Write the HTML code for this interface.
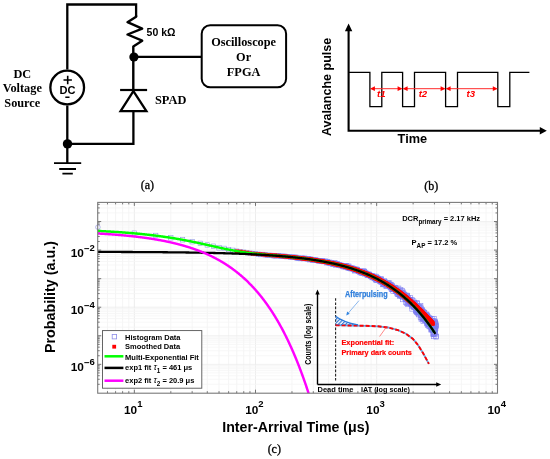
<!DOCTYPE html><html><head><meta charset="utf-8"><style>html,body{margin:0;padding:0;background:#fff;}svg{display:block}</style></head><body>
<svg width="550" height="459" viewBox="0 0 550 459">
<rect width="550" height="459" fill="#fff"/>
<g fill="none" stroke="#000" stroke-width="2.3">
<path d="M67.3,69.6 V4.5 H136.1 V16.7"/>
<path d="M136.1,15.5 V16.7 L127.5,22.2 L142.2,28.6 L127.5,34.5 L142.2,40.7 L133.3,46.4 V90" stroke-linejoin="round" stroke-width="2.4"/>
<path d="M67.3,105.4 V163.2 M67.3,143.9 H133.4 V111"/>
<path d="M133.9,56.8 H201"/>
<circle cx="67.2" cy="87.5" r="16.85"/>
<path d="M120.1,90 H147.1" stroke-width="2.2"/>
<path d="M133.4,91.2 L120.6,111.1 H146.4 Z" stroke-linejoin="miter" stroke-width="2.3"/>
<path d="M54,163.2 H81.2 M59.2,169 H76 M62.4,173.6 H72.8" stroke-width="1.8"/>
<rect x="201.7" y="25.2" width="84.4" height="62" rx="8.5" ry="8.5" stroke-width="2"/>
<path d="M63.5,80 H71.9 M67.7,75.8 V84.2 M65.3,97.2 H69.5" stroke-width="1.6"/>
</g>
<circle cx="133.9" cy="57.0" r="4.6" fill="#000"/>
<circle cx="67.5" cy="143.9" r="4.7" fill="#000"/>
<text x="59.5" y="94.1" style="font-family:'Liberation Sans',sans-serif;font-weight:bold;font-size:11.8px" textLength="16" lengthAdjust="spacingAndGlyphs">DC</text>
<text x="146.6" y="35.8" style="font-family:'Liberation Sans',sans-serif;font-weight:bold;font-size:10.5px">50 kΩ</text>
<g style="font-family:'Liberation Serif',serif;font-weight:bold;font-size:12.3px" text-anchor="middle">
<text x="22.3" y="78">DC</text><text x="22.3" y="92.3">Voltage</text><text x="22.3" y="107">Source</text>
<text x="243.6" y="46.2">Oscilloscope</text><text x="243.6" y="60.8">Or</text><text x="243.6" y="75.5">FPGA</text>
</g>
<text x="154.9" y="104.4" style="font-family:'Liberation Serif',serif;font-weight:bold;font-size:12.4px">SPAD</text>
<text x="147.4" y="189.3" style="font-family:'Liberation Serif',serif;font-size:12px" text-anchor="middle" stroke="#000" stroke-width="0.3">(a)</text>
<g fill="none" stroke="#000">
<path d="M348.6,30 V130.8 H540" stroke-width="2.1" stroke-linejoin="miter"/>
<path d="M348.6,72.3 H369.9 V106.6 H381.8 V72.3 H402.6 V106.6 H414.5 V72.3 H445.6 V106.6 H457.5 V72.3 H497.8 V106.6 H509.8 V72.3 H529.4" stroke-width="1.3"/>
</g>
<path d="M348.6,23.5 L344.9,31.2 H352.3 Z M546.8,130.8 L539.8,127 V134.6 Z" fill="#000"/>
<path d="M372.9,88.7 H399.6" stroke="#ff2a2a" stroke-width="1"/><path d="M369.9,88.7 L374.9,86.3 V91.10000000000001 Z M402.6,88.7 L397.6,86.3 V91.10000000000001 Z" fill="#f00"/>
<path d="M405.6,88.7 H442.6" stroke="#ff2a2a" stroke-width="1"/><path d="M402.6,88.7 L407.6,86.3 V91.10000000000001 Z M445.6,88.7 L440.6,86.3 V91.10000000000001 Z" fill="#f00"/>
<path d="M448.6,88.7 H494.8" stroke="#ff2a2a" stroke-width="1"/><path d="M445.6,88.7 L450.6,86.3 V91.10000000000001 Z M497.8,88.7 L492.8,86.3 V91.10000000000001 Z" fill="#f00"/>
<g style="font-family:'Liberation Sans',sans-serif;font-weight:bold;font-style:italic;font-size:9.6px;fill:#f00" text-anchor="middle"><text x="381.3" y="97.1">t1</text><text x="422.9" y="97.1">t2</text><text x="470.8" y="96.9">t3</text></g>
<text x="397.6" y="142.9" style="font-family:'Liberation Sans',sans-serif;font-weight:bold;font-size:12.6px" textLength="29.5" lengthAdjust="spacingAndGlyphs">Time</text>
<text transform="translate(331.2,136.1) rotate(-90)" style="font-family:'Liberation Sans',sans-serif;font-weight:bold;font-size:12.8px" textLength="98.3" lengthAdjust="spacingAndGlyphs">Avalanche pulse</text>
<text x="431.2" y="189.5" style="font-family:'Liberation Serif',serif;font-size:12px" text-anchor="middle" stroke="#000" stroke-width="0.3">(b)</text>
<g stroke-width="0.8" fill="none">
<path d="M107.47,202.4 V393.2" stroke="#f2f2f2"/>
<path d="M115.58,202.4 V393.2" stroke="#f2f2f2"/>
<path d="M122.61,202.4 V393.2" stroke="#f2f2f2"/>
<path d="M128.81,202.4 V393.2" stroke="#f2f2f2"/>
<path d="M134.35,202.4 V393.2" stroke="#e9e9e9"/>
<path d="M170.82,202.4 V393.2" stroke="#f2f2f2"/>
<path d="M192.15,202.4 V393.2" stroke="#f2f2f2"/>
<path d="M207.29,202.4 V393.2" stroke="#f2f2f2"/>
<path d="M219.03,202.4 V393.2" stroke="#f2f2f2"/>
<path d="M228.62,202.4 V393.2" stroke="#f2f2f2"/>
<path d="M236.73,202.4 V393.2" stroke="#f2f2f2"/>
<path d="M243.76,202.4 V393.2" stroke="#f2f2f2"/>
<path d="M249.96,202.4 V393.2" stroke="#f2f2f2"/>
<path d="M255.50,202.4 V393.2" stroke="#e9e9e9"/>
<path d="M291.97,202.4 V393.2" stroke="#f2f2f2"/>
<path d="M313.30,202.4 V393.2" stroke="#f2f2f2"/>
<path d="M328.44,202.4 V393.2" stroke="#f2f2f2"/>
<path d="M340.18,202.4 V393.2" stroke="#f2f2f2"/>
<path d="M349.77,202.4 V393.2" stroke="#f2f2f2"/>
<path d="M357.88,202.4 V393.2" stroke="#f2f2f2"/>
<path d="M364.91,202.4 V393.2" stroke="#f2f2f2"/>
<path d="M371.11,202.4 V393.2" stroke="#f2f2f2"/>
<path d="M376.65,202.4 V393.2" stroke="#e9e9e9"/>
<path d="M413.12,202.4 V393.2" stroke="#f2f2f2"/>
<path d="M434.45,202.4 V393.2" stroke="#f2f2f2"/>
<path d="M449.59,202.4 V393.2" stroke="#f2f2f2"/>
<path d="M461.33,202.4 V393.2" stroke="#f2f2f2"/>
<path d="M470.92,202.4 V393.2" stroke="#f2f2f2"/>
<path d="M479.03,202.4 V393.2" stroke="#f2f2f2"/>
<path d="M486.06,202.4 V393.2" stroke="#f2f2f2"/>
<path d="M492.26,202.4 V393.2" stroke="#f2f2f2"/>
<path d="M97.7,384.30 H497.5" stroke="#f5f5f5"/>
<path d="M97.7,379.27 H497.5" stroke="#f5f5f5"/>
<path d="M97.7,375.71 H497.5" stroke="#f5f5f5"/>
<path d="M97.7,372.94 H497.5" stroke="#f5f5f5"/>
<path d="M97.7,370.68 H497.5" stroke="#f5f5f5"/>
<path d="M97.7,368.76 H497.5" stroke="#f5f5f5"/>
<path d="M97.7,367.11 H497.5" stroke="#f5f5f5"/>
<path d="M97.7,365.65 H497.5" stroke="#f5f5f5"/>
<path d="M97.7,364.34 H497.5" stroke="#ececec"/>
<path d="M97.7,355.74 H497.5" stroke="#f5f5f5"/>
<path d="M97.7,350.71 H497.5" stroke="#f5f5f5"/>
<path d="M97.7,347.15 H497.5" stroke="#f5f5f5"/>
<path d="M97.7,344.38 H497.5" stroke="#f5f5f5"/>
<path d="M97.7,342.12 H497.5" stroke="#f5f5f5"/>
<path d="M97.7,340.20 H497.5" stroke="#f5f5f5"/>
<path d="M97.7,338.55 H497.5" stroke="#f5f5f5"/>
<path d="M97.7,337.09 H497.5" stroke="#f5f5f5"/>
<path d="M97.7,335.78 H497.5" stroke="#ececec"/>
<path d="M97.7,327.18 H497.5" stroke="#f5f5f5"/>
<path d="M97.7,322.15 H497.5" stroke="#f5f5f5"/>
<path d="M97.7,318.59 H497.5" stroke="#f5f5f5"/>
<path d="M97.7,315.82 H497.5" stroke="#f5f5f5"/>
<path d="M97.7,313.56 H497.5" stroke="#f5f5f5"/>
<path d="M97.7,311.64 H497.5" stroke="#f5f5f5"/>
<path d="M97.7,309.99 H497.5" stroke="#f5f5f5"/>
<path d="M97.7,308.53 H497.5" stroke="#f5f5f5"/>
<path d="M97.7,307.22 H497.5" stroke="#ececec"/>
<path d="M97.7,298.62 H497.5" stroke="#f5f5f5"/>
<path d="M97.7,293.59 H497.5" stroke="#f5f5f5"/>
<path d="M97.7,290.03 H497.5" stroke="#f5f5f5"/>
<path d="M97.7,287.26 H497.5" stroke="#f5f5f5"/>
<path d="M97.7,285.00 H497.5" stroke="#f5f5f5"/>
<path d="M97.7,283.08 H497.5" stroke="#f5f5f5"/>
<path d="M97.7,281.43 H497.5" stroke="#f5f5f5"/>
<path d="M97.7,279.97 H497.5" stroke="#f5f5f5"/>
<path d="M97.7,278.66 H497.5" stroke="#ececec"/>
<path d="M97.7,270.06 H497.5" stroke="#f5f5f5"/>
<path d="M97.7,265.03 H497.5" stroke="#f5f5f5"/>
<path d="M97.7,261.47 H497.5" stroke="#f5f5f5"/>
<path d="M97.7,258.70 H497.5" stroke="#f5f5f5"/>
<path d="M97.7,256.44 H497.5" stroke="#f5f5f5"/>
<path d="M97.7,254.52 H497.5" stroke="#f5f5f5"/>
<path d="M97.7,252.87 H497.5" stroke="#f5f5f5"/>
<path d="M97.7,251.41 H497.5" stroke="#f5f5f5"/>
<path d="M97.7,250.10 H497.5" stroke="#ececec"/>
<path d="M97.7,241.50 H497.5" stroke="#f5f5f5"/>
<path d="M97.7,236.47 H497.5" stroke="#f5f5f5"/>
<path d="M97.7,232.91 H497.5" stroke="#f5f5f5"/>
<path d="M97.7,230.14 H497.5" stroke="#f5f5f5"/>
<path d="M97.7,227.88 H497.5" stroke="#f5f5f5"/>
<path d="M97.7,225.96 H497.5" stroke="#f5f5f5"/>
<path d="M97.7,224.31 H497.5" stroke="#f5f5f5"/>
<path d="M97.7,222.85 H497.5" stroke="#f5f5f5"/>
<path d="M97.7,221.54 H497.5" stroke="#ececec"/>
<path d="M97.7,212.94 H497.5" stroke="#f5f5f5"/>
<path d="M97.7,207.91 H497.5" stroke="#f5f5f5"/>
<path d="M97.7,204.35 H497.5" stroke="#f5f5f5"/>
</g>
<path d="M107.47,393.2 v-2 M107.47,202.4 v2 M115.58,393.2 v-2 M115.58,202.4 v2 M122.61,393.2 v-2 M122.61,202.4 v2 M128.81,393.2 v-2 M128.81,202.4 v2 M134.35,393.2 v-3.5 M134.35,202.4 v3.5 M170.82,393.2 v-2 M170.82,202.4 v2 M192.15,393.2 v-2 M192.15,202.4 v2 M207.29,393.2 v-2 M207.29,202.4 v2 M219.03,393.2 v-2 M219.03,202.4 v2 M228.62,393.2 v-2 M228.62,202.4 v2 M236.73,393.2 v-2 M236.73,202.4 v2 M243.76,393.2 v-2 M243.76,202.4 v2 M249.96,393.2 v-2 M249.96,202.4 v2 M255.50,393.2 v-3.5 M255.50,202.4 v3.5 M291.97,393.2 v-2 M291.97,202.4 v2 M313.30,393.2 v-2 M313.30,202.4 v2 M328.44,393.2 v-2 M328.44,202.4 v2 M340.18,393.2 v-2 M340.18,202.4 v2 M349.77,393.2 v-2 M349.77,202.4 v2 M357.88,393.2 v-2 M357.88,202.4 v2 M364.91,393.2 v-2 M364.91,202.4 v2 M371.11,393.2 v-2 M371.11,202.4 v2 M376.65,393.2 v-3.5 M376.65,202.4 v3.5 M413.12,393.2 v-2 M413.12,202.4 v2 M434.45,393.2 v-2 M434.45,202.4 v2 M449.59,393.2 v-2 M449.59,202.4 v2 M461.33,393.2 v-2 M461.33,202.4 v2 M470.92,393.2 v-2 M470.92,202.4 v2 M479.03,393.2 v-2 M479.03,202.4 v2 M486.06,393.2 v-2 M486.06,202.4 v2 M492.26,393.2 v-2 M492.26,202.4 v2 M97.7,384.30 h2 M497.5,384.30 h-2 M97.7,379.27 h2 M497.5,379.27 h-2 M97.7,375.71 h2 M497.5,375.71 h-2 M97.7,372.94 h2 M497.5,372.94 h-2 M97.7,370.68 h2 M497.5,370.68 h-2 M97.7,368.76 h2 M497.5,368.76 h-2 M97.7,367.11 h2 M497.5,367.11 h-2 M97.7,365.65 h2 M497.5,365.65 h-2 M97.7,364.34 h3.5 M497.5,364.34 h-3.5 M97.7,355.74 h2 M497.5,355.74 h-2 M97.7,350.71 h2 M497.5,350.71 h-2 M97.7,347.15 h2 M497.5,347.15 h-2 M97.7,344.38 h2 M497.5,344.38 h-2 M97.7,342.12 h2 M497.5,342.12 h-2 M97.7,340.20 h2 M497.5,340.20 h-2 M97.7,338.55 h2 M497.5,338.55 h-2 M97.7,337.09 h2 M497.5,337.09 h-2 M97.7,335.78 h3.5 M497.5,335.78 h-3.5 M97.7,327.18 h2 M497.5,327.18 h-2 M97.7,322.15 h2 M497.5,322.15 h-2 M97.7,318.59 h2 M497.5,318.59 h-2 M97.7,315.82 h2 M497.5,315.82 h-2 M97.7,313.56 h2 M497.5,313.56 h-2 M97.7,311.64 h2 M497.5,311.64 h-2 M97.7,309.99 h2 M497.5,309.99 h-2 M97.7,308.53 h2 M497.5,308.53 h-2 M97.7,307.22 h3.5 M497.5,307.22 h-3.5 M97.7,298.62 h2 M497.5,298.62 h-2 M97.7,293.59 h2 M497.5,293.59 h-2 M97.7,290.03 h2 M497.5,290.03 h-2 M97.7,287.26 h2 M497.5,287.26 h-2 M97.7,285.00 h2 M497.5,285.00 h-2 M97.7,283.08 h2 M497.5,283.08 h-2 M97.7,281.43 h2 M497.5,281.43 h-2 M97.7,279.97 h2 M497.5,279.97 h-2 M97.7,278.66 h3.5 M497.5,278.66 h-3.5 M97.7,270.06 h2 M497.5,270.06 h-2 M97.7,265.03 h2 M497.5,265.03 h-2 M97.7,261.47 h2 M497.5,261.47 h-2 M97.7,258.70 h2 M497.5,258.70 h-2 M97.7,256.44 h2 M497.5,256.44 h-2 M97.7,254.52 h2 M497.5,254.52 h-2 M97.7,252.87 h2 M497.5,252.87 h-2 M97.7,251.41 h2 M497.5,251.41 h-2 M97.7,250.10 h3.5 M497.5,250.10 h-3.5 M97.7,241.50 h2 M497.5,241.50 h-2 M97.7,236.47 h2 M497.5,236.47 h-2 M97.7,232.91 h2 M497.5,232.91 h-2 M97.7,230.14 h2 M497.5,230.14 h-2 M97.7,227.88 h2 M497.5,227.88 h-2 M97.7,225.96 h2 M497.5,225.96 h-2 M97.7,224.31 h2 M497.5,224.31 h-2 M97.7,222.85 h2 M497.5,222.85 h-2 M97.7,221.54 h3.5 M497.5,221.54 h-3.5 M97.7,212.94 h2 M497.5,212.94 h-2 M97.7,207.91 h2 M497.5,207.91 h-2 M97.7,204.35 h2 M497.5,204.35 h-2" stroke="#555" stroke-width="0.8" fill="none"/>
<defs><clipPath id="ax"><rect x="97.7" y="202.4" width="399.8" height="190.8"/></clipPath></defs>
<g fill="none" stroke-width="0.55">
<rect x="132.15" y="230.92" width="4.4" height="4.4" stroke="#8890e0"/>
<rect x="153.48" y="233.23" width="4.4" height="4.4" stroke="#8890e0"/>
<rect x="168.62" y="235.69" width="4.4" height="4.4" stroke="#8890e0"/>
<rect x="180.36" y="237.66" width="4.4" height="4.4" stroke="#8890e0"/>
<rect x="189.95" y="239.57" width="4.4" height="4.4" stroke="#8890e0"/>
<rect x="198.06" y="241.09" width="4.4" height="4.4" stroke="#8890e0"/>
<rect x="205.09" y="242.75" width="4.4" height="4.4" stroke="#8890e0"/>
<rect x="211.29" y="243.99" width="4.4" height="4.4" stroke="#8890e0"/>
<rect x="216.83" y="245.71" width="4.4" height="4.4" stroke="#8890e0"/>
<rect x="221.84" y="246.14" width="4.4" height="4.4" stroke="#8890e0"/>
<rect x="226.42" y="247.41" width="4.4" height="4.4" stroke="#8890e0"/>
<rect x="230.63" y="248.08" width="4.4" height="4.4" stroke="#8890e0"/>
<rect x="234.53" y="248.95" width="4.4" height="4.4" stroke="#8890e0"/>
<rect x="238.16" y="249.61" width="4.4" height="4.4" stroke="#8890e0"/>
<rect x="241.56" y="249.96" width="4.4" height="4.4" stroke="#8890e0"/>
<rect x="244.75" y="250.34" width="4.4" height="4.4" stroke="#8890e0"/>
<rect x="247.76" y="250.95" width="4.4" height="4.4" stroke="#8890e0"/>
<rect x="250.60" y="251.29" width="4.4" height="4.4" stroke="#7c7cf0"/>
<rect x="253.30" y="251.41" width="4.4" height="4.4" stroke="#7c7cf0"/>
<rect x="255.87" y="252.03" width="4.4" height="4.4" stroke="#7c7cf0"/>
<rect x="258.31" y="252.42" width="4.4" height="4.4" stroke="#7c7cf0"/>
<rect x="260.65" y="252.22" width="4.4" height="4.4" stroke="#7c7cf0"/>
<rect x="262.89" y="252.66" width="4.4" height="4.4" stroke="#7c7cf0"/>
<rect x="265.04" y="253.15" width="4.4" height="4.4" stroke="#7c7cf0"/>
<rect x="267.10" y="253.07" width="4.4" height="4.4" stroke="#7c7cf0"/>
<rect x="269.09" y="253.17" width="4.4" height="4.4" stroke="#7c7cf0"/>
<rect x="271.00" y="253.51" width="4.4" height="4.4" stroke="#7c7cf0"/>
<rect x="272.85" y="253.74" width="4.4" height="4.4" stroke="#7c7cf0"/>
<rect x="274.63" y="253.52" width="4.4" height="4.4" stroke="#7c7cf0"/>
<rect x="276.36" y="253.45" width="4.4" height="4.4" stroke="#7c7cf0"/>
<rect x="278.03" y="253.88" width="4.4" height="4.4" stroke="#7c7cf0"/>
<rect x="279.65" y="254.16" width="4.4" height="4.4" stroke="#7c7cf0"/>
<rect x="281.22" y="254.01" width="4.4" height="4.4" stroke="#7c7cf0"/>
<rect x="282.74" y="254.06" width="4.4" height="4.4" stroke="#7c7cf0"/>
<rect x="284.23" y="254.47" width="4.4" height="4.4" stroke="#7c7cf0"/>
<rect x="285.67" y="254.38" width="4.4" height="4.4" stroke="#7c7cf0"/>
<rect x="287.07" y="254.38" width="4.4" height="4.4" stroke="#7c7cf0"/>
<rect x="288.44" y="254.86" width="4.4" height="4.4" stroke="#7c7cf0"/>
<rect x="289.77" y="255.17" width="4.4" height="4.4" stroke="#7c7cf0"/>
<rect x="291.07" y="254.97" width="4.4" height="4.4" stroke="#7c7cf0"/>
<rect x="292.34" y="255.14" width="4.4" height="4.4" stroke="#7c7cf0"/>
<rect x="293.57" y="255.02" width="4.4" height="4.4" stroke="#7c7cf0"/>
<rect x="294.78" y="255.86" width="4.4" height="4.4" stroke="#7c7cf0"/>
<rect x="295.97" y="255.82" width="4.4" height="4.4" stroke="#7c7cf0"/>
<rect x="297.12" y="256.01" width="4.4" height="4.4" stroke="#7c7cf0"/>
<rect x="298.25" y="256.42" width="4.4" height="4.4" stroke="#7c7cf0"/>
<rect x="299.36" y="255.98" width="4.4" height="4.4" stroke="#7c7cf0"/>
<rect x="300.45" y="255.99" width="4.4" height="4.4" stroke="#7c7cf0"/>
<rect x="301.51" y="256.53" width="4.4" height="4.4" stroke="#7c7cf0"/>
<rect x="302.55" y="255.97" width="4.4" height="4.4" stroke="#7c7cf0"/>
<rect x="303.57" y="256.29" width="4.4" height="4.4" stroke="#7c7cf0"/>
<rect x="304.58" y="256.48" width="4.4" height="4.4" stroke="#7c7cf0"/>
<rect x="305.56" y="256.69" width="4.4" height="4.4" stroke="#7c7cf0"/>
<rect x="306.53" y="256.64" width="4.4" height="4.4" stroke="#7c7cf0"/>
<rect x="307.47" y="257.56" width="4.4" height="4.4" stroke="#7c7cf0"/>
<rect x="308.40" y="257.02" width="4.4" height="4.4" stroke="#7c7cf0"/>
<rect x="309.32" y="257.15" width="4.4" height="4.4" stroke="#7c7cf0"/>
<rect x="310.22" y="258.13" width="4.4" height="4.4" stroke="#7c7cf0"/>
<rect x="311.10" y="257.51" width="4.4" height="4.4" stroke="#7c7cf0"/>
<rect x="311.97" y="257.86" width="4.4" height="4.4" stroke="#7c7cf0"/>
<rect x="312.83" y="257.61" width="4.4" height="4.4" stroke="#7c7cf0"/>
<rect x="313.67" y="258.20" width="4.4" height="4.4" stroke="#7c7cf0"/>
<rect x="314.50" y="258.18" width="4.4" height="4.4" stroke="#7c7cf0"/>
<rect x="315.31" y="258.18" width="4.4" height="4.4" stroke="#7c7cf0"/>
<rect x="316.12" y="258.78" width="4.4" height="4.4" stroke="#7c7cf0"/>
<rect x="316.91" y="258.34" width="4.4" height="4.4" stroke="#7c7cf0"/>
<rect x="317.69" y="258.75" width="4.4" height="4.4" stroke="#7c7cf0"/>
<rect x="318.46" y="258.65" width="4.4" height="4.4" stroke="#7c7cf0"/>
<rect x="319.21" y="259.19" width="4.4" height="4.4" stroke="#7c7cf0"/>
<rect x="319.96" y="258.67" width="4.4" height="4.4" stroke="#7c7cf0"/>
<rect x="320.70" y="259.00" width="4.4" height="4.4" stroke="#7c7cf0"/>
<rect x="321.42" y="259.46" width="4.4" height="4.4" stroke="#7c7cf0"/>
<rect x="322.14" y="259.25" width="4.4" height="4.4" stroke="#7c7cf0"/>
<rect x="322.84" y="259.11" width="4.4" height="4.4" stroke="#7c7cf0"/>
<rect x="323.54" y="259.01" width="4.4" height="4.4" stroke="#7c7cf0"/>
<rect x="324.23" y="260.61" width="4.4" height="4.4" stroke="#7c7cf0"/>
<rect x="324.91" y="259.67" width="4.4" height="4.4" stroke="#7c7cf0"/>
<rect x="325.58" y="259.98" width="4.4" height="4.4" stroke="#7c7cf0"/>
<rect x="326.24" y="260.36" width="4.4" height="4.4" stroke="#7c7cf0"/>
<rect x="326.89" y="260.91" width="4.4" height="4.4" stroke="#7c7cf0"/>
<rect x="327.54" y="260.02" width="4.4" height="4.4" stroke="#7c7cf0"/>
<rect x="328.18" y="261.31" width="4.4" height="4.4" stroke="#7c7cf0"/>
<rect x="328.81" y="260.59" width="4.4" height="4.4" stroke="#7c7cf0"/>
<rect x="329.43" y="260.38" width="4.4" height="4.4" stroke="#7c7cf0"/>
<rect x="330.04" y="261.89" width="4.4" height="4.4" stroke="#7c7cf0"/>
<rect x="330.65" y="261.41" width="4.4" height="4.4" stroke="#7c7cf0"/>
<rect x="331.25" y="262.03" width="4.4" height="4.4" stroke="#7c7cf0"/>
<rect x="331.85" y="261.41" width="4.4" height="4.4" stroke="#7c7cf0"/>
<rect x="332.44" y="260.92" width="4.4" height="4.4" stroke="#7c7cf0"/>
<rect x="333.02" y="260.79" width="4.4" height="4.4" stroke="#7c7cf0"/>
<rect x="333.59" y="262.83" width="4.4" height="4.4" stroke="#7c7cf0"/>
<rect x="334.16" y="262.36" width="4.4" height="4.4" stroke="#7c7cf0"/>
<rect x="334.72" y="261.84" width="4.4" height="4.4" stroke="#7c7cf0"/>
<rect x="335.28" y="261.52" width="4.4" height="4.4" stroke="#7c7cf0"/>
<rect x="335.83" y="262.25" width="4.4" height="4.4" stroke="#7c7cf0"/>
<rect x="336.38" y="263.00" width="4.4" height="4.4" stroke="#7c7cf0"/>
<rect x="336.92" y="262.58" width="4.4" height="4.4" stroke="#7c7cf0"/>
<rect x="337.45" y="262.88" width="4.4" height="4.4" stroke="#7c7cf0"/>
<rect x="337.98" y="263.12" width="4.4" height="4.4" stroke="#7c7cf0"/>
<rect x="338.50" y="263.54" width="4.4" height="4.4" stroke="#7c7cf0"/>
<rect x="339.02" y="263.06" width="4.4" height="4.4" stroke="#7c7cf0"/>
<rect x="339.54" y="263.24" width="4.4" height="4.4" stroke="#7c7cf0"/>
<rect x="340.04" y="263.60" width="4.4" height="4.4" stroke="#7c7cf0"/>
<rect x="340.55" y="263.80" width="4.4" height="4.4" stroke="#7c7cf0"/>
<rect x="341.05" y="264.55" width="4.4" height="4.4" stroke="#7c7cf0"/>
<rect x="341.54" y="264.23" width="4.4" height="4.4" stroke="#7c7cf0"/>
<rect x="342.03" y="263.38" width="4.4" height="4.4" stroke="#7c7cf0"/>
<rect x="342.51" y="264.33" width="4.4" height="4.4" stroke="#7c7cf0"/>
<rect x="342.99" y="265.20" width="4.4" height="4.4" stroke="#7c7cf0"/>
<rect x="343.47" y="263.69" width="4.4" height="4.4" stroke="#7c7cf0"/>
<rect x="343.94" y="264.30" width="4.4" height="4.4" stroke="#7c7cf0"/>
<rect x="344.41" y="263.47" width="4.4" height="4.4" stroke="#7c7cf0"/>
<rect x="344.87" y="264.85" width="4.4" height="4.4" stroke="#7c7cf0"/>
<rect x="345.33" y="265.30" width="4.4" height="4.4" stroke="#7c7cf0"/>
<rect x="345.79" y="266.05" width="4.4" height="4.4" stroke="#7c7cf0"/>
<rect x="346.24" y="264.46" width="4.4" height="4.4" stroke="#7c7cf0"/>
<rect x="346.69" y="263.97" width="4.4" height="4.4" stroke="#7c7cf0"/>
<rect x="347.13" y="266.08" width="4.4" height="4.4" stroke="#7c7cf0"/>
<rect x="347.57" y="266.11" width="4.4" height="4.4" stroke="#7c7cf0"/>
<rect x="348.01" y="265.44" width="4.4" height="4.4" stroke="#7c7cf0"/>
<rect x="348.44" y="266.50" width="4.4" height="4.4" stroke="#7c7cf0"/>
<rect x="348.87" y="266.27" width="4.4" height="4.4" stroke="#7c7cf0"/>
<rect x="349.30" y="266.46" width="4.4" height="4.4" stroke="#7c7cf0"/>
<rect x="349.72" y="266.23" width="4.4" height="4.4" stroke="#7c7cf0"/>
<rect x="350.14" y="265.76" width="4.4" height="4.4" stroke="#7c7cf0"/>
<rect x="350.56" y="266.61" width="4.4" height="4.4" stroke="#7c7cf0"/>
<rect x="350.97" y="266.13" width="4.4" height="4.4" stroke="#7c7cf0"/>
<rect x="351.38" y="267.18" width="4.4" height="4.4" stroke="#7c7cf0"/>
<rect x="351.78" y="266.80" width="4.4" height="4.4" stroke="#7c7cf0"/>
<rect x="352.19" y="268.66" width="4.4" height="4.4" stroke="#7c7cf0"/>
<rect x="352.59" y="268.32" width="4.4" height="4.4" stroke="#7c7cf0"/>
<rect x="352.98" y="266.87" width="4.4" height="4.4" stroke="#7c7cf0"/>
<rect x="353.38" y="267.99" width="4.4" height="4.4" stroke="#7c7cf0"/>
<rect x="353.77" y="267.28" width="4.4" height="4.4" stroke="#7c7cf0"/>
<rect x="354.16" y="267.44" width="4.4" height="4.4" stroke="#7c7cf0"/>
<rect x="354.54" y="267.00" width="4.4" height="4.4" stroke="#7c7cf0"/>
<rect x="354.93" y="267.50" width="4.4" height="4.4" stroke="#7c7cf0"/>
<rect x="355.31" y="267.48" width="4.4" height="4.4" stroke="#7c7cf0"/>
<rect x="355.68" y="268.45" width="4.4" height="4.4" stroke="#7c7cf0"/>
<rect x="356.06" y="269.03" width="4.4" height="4.4" stroke="#7c7cf0"/>
<rect x="356.43" y="269.19" width="4.4" height="4.4" stroke="#7c7cf0"/>
<rect x="356.80" y="269.14" width="4.4" height="4.4" stroke="#7c7cf0"/>
<rect x="357.17" y="269.77" width="4.4" height="4.4" stroke="#7c7cf0"/>
<rect x="357.53" y="269.46" width="4.4" height="4.4" stroke="#7c7cf0"/>
<rect x="357.89" y="269.24" width="4.4" height="4.4" stroke="#7c7cf0"/>
<rect x="358.25" y="269.11" width="4.4" height="4.4" stroke="#7c7cf0"/>
<rect x="358.61" y="269.71" width="4.4" height="4.4" stroke="#7c7cf0"/>
<rect x="358.96" y="271.10" width="4.4" height="4.4" stroke="#7c7cf0"/>
<rect x="359.31" y="269.76" width="4.4" height="4.4" stroke="#7c7cf0"/>
<rect x="359.66" y="269.66" width="4.4" height="4.4" stroke="#7c7cf0"/>
<rect x="360.01" y="269.09" width="4.4" height="4.4" stroke="#7c7cf0"/>
<rect x="360.36" y="269.63" width="4.4" height="4.4" stroke="#7c7cf0"/>
<rect x="360.70" y="270.77" width="4.4" height="4.4" stroke="#7c7cf0"/>
<rect x="361.04" y="270.97" width="4.4" height="4.4" stroke="#7c7cf0"/>
<rect x="361.38" y="268.83" width="4.4" height="4.4" stroke="#7c7cf0"/>
<rect x="361.71" y="270.01" width="4.4" height="4.4" stroke="#7c7cf0"/>
<rect x="362.05" y="269.23" width="4.4" height="4.4" stroke="#7c7cf0"/>
<rect x="362.38" y="269.10" width="4.4" height="4.4" stroke="#7c7cf0"/>
<rect x="362.71" y="271.74" width="4.4" height="4.4" stroke="#7c7cf0"/>
<rect x="363.04" y="270.84" width="4.4" height="4.4" stroke="#7c7cf0"/>
<rect x="363.36" y="270.91" width="4.4" height="4.4" stroke="#7c7cf0"/>
<rect x="363.69" y="270.95" width="4.4" height="4.4" stroke="#7c7cf0"/>
<rect x="364.01" y="271.10" width="4.4" height="4.4" stroke="#7c7cf0"/>
<rect x="364.33" y="271.53" width="4.4" height="4.4" stroke="#7c7cf0"/>
<rect x="364.65" y="271.69" width="4.4" height="4.4" stroke="#7c7cf0"/>
<rect x="364.96" y="273.32" width="4.4" height="4.4" stroke="#7c7cf0"/>
<rect x="365.28" y="272.26" width="4.4" height="4.4" stroke="#7c7cf0"/>
<rect x="365.59" y="272.92" width="4.4" height="4.4" stroke="#7c7cf0"/>
<rect x="365.90" y="272.26" width="4.4" height="4.4" stroke="#7c7cf0"/>
<rect x="366.21" y="272.94" width="4.4" height="4.4" stroke="#7c7cf0"/>
<rect x="366.51" y="272.07" width="4.4" height="4.4" stroke="#7c7cf0"/>
<rect x="366.82" y="272.01" width="4.4" height="4.4" stroke="#7c7cf0"/>
<rect x="367.12" y="272.62" width="4.4" height="4.4" stroke="#7c7cf0"/>
<rect x="367.42" y="272.74" width="4.4" height="4.4" stroke="#7c7cf0"/>
<rect x="367.72" y="273.09" width="4.4" height="4.4" stroke="#7c7cf0"/>
<rect x="368.02" y="273.73" width="4.4" height="4.4" stroke="#7c7cf0"/>
<rect x="368.32" y="273.60" width="4.4" height="4.4" stroke="#7c7cf0"/>
<rect x="368.61" y="274.05" width="4.4" height="4.4" stroke="#7c7cf0"/>
<rect x="368.91" y="273.33" width="4.4" height="4.4" stroke="#7c7cf0"/>
<rect x="369.20" y="273.83" width="4.4" height="4.4" stroke="#7c7cf0"/>
<rect x="369.49" y="273.40" width="4.4" height="4.4" stroke="#7c7cf0"/>
<rect x="369.78" y="275.42" width="4.4" height="4.4" stroke="#7c7cf0"/>
<rect x="370.06" y="273.36" width="4.4" height="4.4" stroke="#7c7cf0"/>
<rect x="370.35" y="275.13" width="4.4" height="4.4" stroke="#7c7cf0"/>
<rect x="370.63" y="275.24" width="4.4" height="4.4" stroke="#7c7cf0"/>
<rect x="370.91" y="274.84" width="4.4" height="4.4" stroke="#7c7cf0"/>
<rect x="371.19" y="275.34" width="4.4" height="4.4" stroke="#7c7cf0"/>
<rect x="371.47" y="274.61" width="4.4" height="4.4" stroke="#7c7cf0"/>
<rect x="371.75" y="275.63" width="4.4" height="4.4" stroke="#7c7cf0"/>
<rect x="372.03" y="276.28" width="4.4" height="4.4" stroke="#7c7cf0"/>
<rect x="372.30" y="276.18" width="4.4" height="4.4" stroke="#7c7cf0"/>
<rect x="372.58" y="274.07" width="4.4" height="4.4" stroke="#7c7cf0"/>
<rect x="372.85" y="275.52" width="4.4" height="4.4" stroke="#7c7cf0"/>
<rect x="373.12" y="276.94" width="4.4" height="4.4" stroke="#7c7cf0"/>
<rect x="373.39" y="275.83" width="4.4" height="4.4" stroke="#7c7cf0"/>
<rect x="373.65" y="277.63" width="4.4" height="4.4" stroke="#7c7cf0"/>
<rect x="373.92" y="274.18" width="4.4" height="4.4" stroke="#7c7cf0"/>
<rect x="374.19" y="277.88" width="4.4" height="4.4" stroke="#7c7cf0"/>
<rect x="374.45" y="275.85" width="4.4" height="4.4" stroke="#7c7cf0"/>
<rect x="374.71" y="275.91" width="4.4" height="4.4" stroke="#7c7cf0"/>
<rect x="374.97" y="278.22" width="4.4" height="4.4" stroke="#7c7cf0"/>
<rect x="375.23" y="276.43" width="4.4" height="4.4" stroke="#7c7cf0"/>
<rect x="375.49" y="275.79" width="4.4" height="4.4" stroke="#7c7cf0"/>
<rect x="375.75" y="276.51" width="4.4" height="4.4" stroke="#7c7cf0"/>
<rect x="376.01" y="276.87" width="4.4" height="4.4" stroke="#7c7cf0"/>
<rect x="376.26" y="276.23" width="4.4" height="4.4" stroke="#7c7cf0"/>
<rect x="376.51" y="277.25" width="4.4" height="4.4" stroke="#7c7cf0"/>
<rect x="376.77" y="277.18" width="4.4" height="4.4" stroke="#7c7cf0"/>
<rect x="377.02" y="277.84" width="4.4" height="4.4" stroke="#7c7cf0"/>
<rect x="377.27" y="277.10" width="4.4" height="4.4" stroke="#7c7cf0"/>
<rect x="377.52" y="279.05" width="4.4" height="4.4" stroke="#7c7cf0"/>
<rect x="377.76" y="277.17" width="4.4" height="4.4" stroke="#7c7cf0"/>
<rect x="378.01" y="278.82" width="4.4" height="4.4" stroke="#7c7cf0"/>
<rect x="378.26" y="279.64" width="4.4" height="4.4" stroke="#7c7cf0"/>
<rect x="378.50" y="278.06" width="4.4" height="4.4" stroke="#7c7cf0"/>
<rect x="378.74" y="276.61" width="4.4" height="4.4" stroke="#7c7cf0"/>
<rect x="378.98" y="277.61" width="4.4" height="4.4" stroke="#7c7cf0"/>
<rect x="379.23" y="279.51" width="4.4" height="4.4" stroke="#7c7cf0"/>
<rect x="379.46" y="278.18" width="4.4" height="4.4" stroke="#7c7cf0"/>
<rect x="379.70" y="279.70" width="4.4" height="4.4" stroke="#7c7cf0"/>
<rect x="379.94" y="279.44" width="4.4" height="4.4" stroke="#7c7cf0"/>
<rect x="380.18" y="279.31" width="4.4" height="4.4" stroke="#7c7cf0"/>
<rect x="380.41" y="282.38" width="4.4" height="4.4" stroke="#7c7cf0"/>
<rect x="380.65" y="279.44" width="4.4" height="4.4" stroke="#7c7cf0"/>
<rect x="380.88" y="281.09" width="4.4" height="4.4" stroke="#7c7cf0"/>
<rect x="381.11" y="280.82" width="4.4" height="4.4" stroke="#7c7cf0"/>
<rect x="381.34" y="281.93" width="4.4" height="4.4" stroke="#7c7cf0"/>
<rect x="381.57" y="282.12" width="4.4" height="4.4" stroke="#7c7cf0"/>
<rect x="381.80" y="281.54" width="4.4" height="4.4" stroke="#7c7cf0"/>
<rect x="382.03" y="279.42" width="4.4" height="4.4" stroke="#7c7cf0"/>
<rect x="382.26" y="278.47" width="4.4" height="4.4" stroke="#7c7cf0"/>
<rect x="382.49" y="280.77" width="4.4" height="4.4" stroke="#7c7cf0"/>
<rect x="382.71" y="279.46" width="4.4" height="4.4" stroke="#7c7cf0"/>
<rect x="382.94" y="281.34" width="4.4" height="4.4" stroke="#7c7cf0"/>
<rect x="383.16" y="283.63" width="4.4" height="4.4" stroke="#7c7cf0"/>
<rect x="383.38" y="281.07" width="4.4" height="4.4" stroke="#7c7cf0"/>
<rect x="383.60" y="280.81" width="4.4" height="4.4" stroke="#7c7cf0"/>
<rect x="383.82" y="282.10" width="4.4" height="4.4" stroke="#7c7cf0"/>
<rect x="384.04" y="281.26" width="4.4" height="4.4" stroke="#7c7cf0"/>
<rect x="384.26" y="281.03" width="4.4" height="4.4" stroke="#7c7cf0"/>
<rect x="384.48" y="283.08" width="4.4" height="4.4" stroke="#7c7cf0"/>
<rect x="384.70" y="284.05" width="4.4" height="4.4" stroke="#7c7cf0"/>
<rect x="384.91" y="282.49" width="4.4" height="4.4" stroke="#7c7cf0"/>
<rect x="385.13" y="282.61" width="4.4" height="4.4" stroke="#7c7cf0"/>
<rect x="385.34" y="282.93" width="4.4" height="4.4" stroke="#7c7cf0"/>
<rect x="385.56" y="281.23" width="4.4" height="4.4" stroke="#7c7cf0"/>
<rect x="385.77" y="280.33" width="4.4" height="4.4" stroke="#7c7cf0"/>
<rect x="385.98" y="283.42" width="4.4" height="4.4" stroke="#7c7cf0"/>
<rect x="386.19" y="282.01" width="4.4" height="4.4" stroke="#7c7cf0"/>
<rect x="386.40" y="281.79" width="4.4" height="4.4" stroke="#7c7cf0"/>
<rect x="386.61" y="282.24" width="4.4" height="4.4" stroke="#7c7cf0"/>
<rect x="386.82" y="281.89" width="4.4" height="4.4" stroke="#7c7cf0"/>
<rect x="387.03" y="284.06" width="4.4" height="4.4" stroke="#7c7cf0"/>
<rect x="387.23" y="282.58" width="4.4" height="4.4" stroke="#7c7cf0"/>
<rect x="387.44" y="280.87" width="4.4" height="4.4" stroke="#7c7cf0"/>
<rect x="387.64" y="282.74" width="4.4" height="4.4" stroke="#7c7cf0"/>
<rect x="387.85" y="284.93" width="4.4" height="4.4" stroke="#7c7cf0"/>
<rect x="388.05" y="283.28" width="4.4" height="4.4" stroke="#7c7cf0"/>
<rect x="388.25" y="282.45" width="4.4" height="4.4" stroke="#7c7cf0"/>
<rect x="388.46" y="283.88" width="4.4" height="4.4" stroke="#7c7cf0"/>
<rect x="388.66" y="285.38" width="4.4" height="4.4" stroke="#7c7cf0"/>
<rect x="388.86" y="282.41" width="4.4" height="4.4" stroke="#7c7cf0"/>
<rect x="389.06" y="286.67" width="4.4" height="4.4" stroke="#7c7cf0"/>
<rect x="389.26" y="284.20" width="4.4" height="4.4" stroke="#7c7cf0"/>
<rect x="389.45" y="285.10" width="4.4" height="4.4" stroke="#7c7cf0"/>
<rect x="389.65" y="287.00" width="4.4" height="4.4" stroke="#7c7cf0"/>
<rect x="389.85" y="283.50" width="4.4" height="4.4" stroke="#7c7cf0"/>
<rect x="390.04" y="284.95" width="4.4" height="4.4" stroke="#7c7cf0"/>
<rect x="390.24" y="287.38" width="4.4" height="4.4" stroke="#7c7cf0"/>
<rect x="390.43" y="284.82" width="4.4" height="4.4" stroke="#7c7cf0"/>
<rect x="390.63" y="286.53" width="4.4" height="4.4" stroke="#7c7cf0"/>
<rect x="390.82" y="288.93" width="4.4" height="4.4" stroke="#7c7cf0"/>
<rect x="391.01" y="287.19" width="4.4" height="4.4" stroke="#7c7cf0"/>
<rect x="391.21" y="285.85" width="4.4" height="4.4" stroke="#7c7cf0"/>
<rect x="391.40" y="285.40" width="4.4" height="4.4" stroke="#7c7cf0"/>
<rect x="391.59" y="286.26" width="4.4" height="4.4" stroke="#7c7cf0"/>
<rect x="391.78" y="286.58" width="4.4" height="4.4" stroke="#7c7cf0"/>
<rect x="391.97" y="286.04" width="4.4" height="4.4" stroke="#7c7cf0"/>
<rect x="392.15" y="287.25" width="4.4" height="4.4" stroke="#7c7cf0"/>
<rect x="392.34" y="285.17" width="4.4" height="4.4" stroke="#7c7cf0"/>
<rect x="392.53" y="286.94" width="4.4" height="4.4" stroke="#7c7cf0"/>
<rect x="392.71" y="286.83" width="4.4" height="4.4" stroke="#7c7cf0"/>
<rect x="392.90" y="286.56" width="4.4" height="4.4" stroke="#7c7cf0"/>
<rect x="393.08" y="289.28" width="4.4" height="4.4" stroke="#7c7cf0"/>
<rect x="393.27" y="288.85" width="4.4" height="4.4" stroke="#7c7cf0"/>
<rect x="393.45" y="285.33" width="4.4" height="4.4" stroke="#7c7cf0"/>
<rect x="393.64" y="287.41" width="4.4" height="4.4" stroke="#7c7cf0"/>
<rect x="393.82" y="288.55" width="4.4" height="4.4" stroke="#7c7cf0"/>
<rect x="394.00" y="287.65" width="4.4" height="4.4" stroke="#7c7cf0"/>
<rect x="394.18" y="289.15" width="4.4" height="4.4" stroke="#7c7cf0"/>
<rect x="394.36" y="288.01" width="4.4" height="4.4" stroke="#7c7cf0"/>
<rect x="394.54" y="289.72" width="4.4" height="4.4" stroke="#7c7cf0"/>
<rect x="394.72" y="288.28" width="4.4" height="4.4" stroke="#7c7cf0"/>
<rect x="394.90" y="291.53" width="4.4" height="4.4" stroke="#7c7cf0"/>
<rect x="395.08" y="286.75" width="4.4" height="4.4" stroke="#7c7cf0"/>
<rect x="395.25" y="290.00" width="4.4" height="4.4" stroke="#7c7cf0"/>
<rect x="395.43" y="291.96" width="4.4" height="4.4" stroke="#7c7cf0"/>
<rect x="395.61" y="289.77" width="4.4" height="4.4" stroke="#7c7cf0"/>
<rect x="395.78" y="290.16" width="4.4" height="4.4" stroke="#7c7cf0"/>
<rect x="395.96" y="289.39" width="4.4" height="4.4" stroke="#7c7cf0"/>
<rect x="396.13" y="291.76" width="4.4" height="4.4" stroke="#7c7cf0"/>
<rect x="396.31" y="289.22" width="4.4" height="4.4" stroke="#7c7cf0"/>
<rect x="396.48" y="286.02" width="4.4" height="4.4" stroke="#7c7cf0"/>
<rect x="396.65" y="292.41" width="4.4" height="4.4" stroke="#7c7cf0"/>
<rect x="396.83" y="289.71" width="4.4" height="4.4" stroke="#7c7cf0"/>
<rect x="397.00" y="290.98" width="4.4" height="4.4" stroke="#7c7cf0"/>
<rect x="397.17" y="290.22" width="4.4" height="4.4" stroke="#7c7cf0"/>
<rect x="397.34" y="293.91" width="4.4" height="4.4" stroke="#7c7cf0"/>
<rect x="397.51" y="292.88" width="4.4" height="4.4" stroke="#7c7cf0"/>
<rect x="397.68" y="290.12" width="4.4" height="4.4" stroke="#7c7cf0"/>
<rect x="397.85" y="291.15" width="4.4" height="4.4" stroke="#7c7cf0"/>
<rect x="398.02" y="288.25" width="4.4" height="4.4" stroke="#7c7cf0"/>
<rect x="398.18" y="292.62" width="4.4" height="4.4" stroke="#7c7cf0"/>
<rect x="398.35" y="291.15" width="4.4" height="4.4" stroke="#7c7cf0"/>
<rect x="398.52" y="287.39" width="4.4" height="4.4" stroke="#7c7cf0"/>
<rect x="398.68" y="293.13" width="4.4" height="4.4" stroke="#7c7cf0"/>
<rect x="398.85" y="293.52" width="4.4" height="4.4" stroke="#7c7cf0"/>
<rect x="399.01" y="292.05" width="4.4" height="4.4" stroke="#7c7cf0"/>
<rect x="399.18" y="292.20" width="4.4" height="4.4" stroke="#7c7cf0"/>
<rect x="399.34" y="290.67" width="4.4" height="4.4" stroke="#7c7cf0"/>
<rect x="399.51" y="292.13" width="4.4" height="4.4" stroke="#7c7cf0"/>
<rect x="399.67" y="293.92" width="4.4" height="4.4" stroke="#7c7cf0"/>
<rect x="399.83" y="292.23" width="4.4" height="4.4" stroke="#7c7cf0"/>
<rect x="399.99" y="288.41" width="4.4" height="4.4" stroke="#7c7cf0"/>
<rect x="400.16" y="290.48" width="4.4" height="4.4" stroke="#7c7cf0"/>
<rect x="400.32" y="297.39" width="4.4" height="4.4" stroke="#7c7cf0"/>
<rect x="400.48" y="293.42" width="4.4" height="4.4" stroke="#7c7cf0"/>
<rect x="400.64" y="294.95" width="4.4" height="4.4" stroke="#7c7cf0"/>
<rect x="400.80" y="292.21" width="4.4" height="4.4" stroke="#7c7cf0"/>
<rect x="400.96" y="293.87" width="4.4" height="4.4" stroke="#7c7cf0"/>
<rect x="401.12" y="289.92" width="4.4" height="4.4" stroke="#7c7cf0"/>
<rect x="401.27" y="291.98" width="4.4" height="4.4" stroke="#7c7cf0"/>
<rect x="401.43" y="292.18" width="4.4" height="4.4" stroke="#7c7cf0"/>
<rect x="401.59" y="293.68" width="4.4" height="4.4" stroke="#7c7cf0"/>
<rect x="401.75" y="294.25" width="4.4" height="4.4" stroke="#7c7cf0"/>
<rect x="401.90" y="293.63" width="4.4" height="4.4" stroke="#7c7cf0"/>
<rect x="402.06" y="291.87" width="4.4" height="4.4" stroke="#7c7cf0"/>
<rect x="402.21" y="293.50" width="4.4" height="4.4" stroke="#7c7cf0"/>
<rect x="402.37" y="295.39" width="4.4" height="4.4" stroke="#7c7cf0"/>
<rect x="402.52" y="292.27" width="4.4" height="4.4" stroke="#7c7cf0"/>
<rect x="402.68" y="294.56" width="4.4" height="4.4" stroke="#7c7cf0"/>
<rect x="402.83" y="295.23" width="4.4" height="4.4" stroke="#7c7cf0"/>
<rect x="402.98" y="296.80" width="4.4" height="4.4" stroke="#7c7cf0"/>
<rect x="403.14" y="296.48" width="4.4" height="4.4" stroke="#7c7cf0"/>
<rect x="403.29" y="296.75" width="4.4" height="4.4" stroke="#7c7cf0"/>
<rect x="403.44" y="300.28" width="4.4" height="4.4" stroke="#7c7cf0"/>
<rect x="403.59" y="293.63" width="4.4" height="4.4" stroke="#7c7cf0"/>
<rect x="403.74" y="294.68" width="4.4" height="4.4" stroke="#7c7cf0"/>
<rect x="403.89" y="296.41" width="4.4" height="4.4" stroke="#7c7cf0"/>
<rect x="404.04" y="293.93" width="4.4" height="4.4" stroke="#7c7cf0"/>
<rect x="404.19" y="295.32" width="4.4" height="4.4" stroke="#7c7cf0"/>
<rect x="404.34" y="295.58" width="4.4" height="4.4" stroke="#7c7cf0"/>
<rect x="404.49" y="301.29" width="4.4" height="4.4" stroke="#7c7cf0"/>
<rect x="404.64" y="297.10" width="4.4" height="4.4" stroke="#7c7cf0"/>
<rect x="404.79" y="295.62" width="4.4" height="4.4" stroke="#7c7cf0"/>
<rect x="404.94" y="293.47" width="4.4" height="4.4" stroke="#7c7cf0"/>
<rect x="405.08" y="293.09" width="4.4" height="4.4" stroke="#7c7cf0"/>
<rect x="405.23" y="294.09" width="4.4" height="4.4" stroke="#7c7cf0"/>
<rect x="405.38" y="299.73" width="4.4" height="4.4" stroke="#7c7cf0"/>
<rect x="405.52" y="302.08" width="4.4" height="4.4" stroke="#7c7cf0"/>
<rect x="405.67" y="296.28" width="4.4" height="4.4" stroke="#7c7cf0"/>
<rect x="405.81" y="297.57" width="4.4" height="4.4" stroke="#7c7cf0"/>
<rect x="405.96" y="295.68" width="4.4" height="4.4" stroke="#7c7cf0"/>
<rect x="406.10" y="298.16" width="4.4" height="4.4" stroke="#7c7cf0"/>
<rect x="406.25" y="297.54" width="4.4" height="4.4" stroke="#7c7cf0"/>
<rect x="406.39" y="301.42" width="4.4" height="4.4" stroke="#7c7cf0"/>
<rect x="406.53" y="297.29" width="4.4" height="4.4" stroke="#7c7cf0"/>
<rect x="406.68" y="299.37" width="4.4" height="4.4" stroke="#7c7cf0"/>
<rect x="406.82" y="297.75" width="4.4" height="4.4" stroke="#7c7cf0"/>
<rect x="406.96" y="297.63" width="4.4" height="4.4" stroke="#7c7cf0"/>
<rect x="407.10" y="299.04" width="4.4" height="4.4" stroke="#7c7cf0"/>
<rect x="407.24" y="298.20" width="4.4" height="4.4" stroke="#7c7cf0"/>
<rect x="407.38" y="299.06" width="4.4" height="4.4" stroke="#7c7cf0"/>
<rect x="407.52" y="297.46" width="4.4" height="4.4" stroke="#7c7cf0"/>
<rect x="407.66" y="298.16" width="4.4" height="4.4" stroke="#7c7cf0"/>
<rect x="407.80" y="300.65" width="4.4" height="4.4" stroke="#7c7cf0"/>
<rect x="407.94" y="300.87" width="4.4" height="4.4" stroke="#7c7cf0"/>
<rect x="408.08" y="295.71" width="4.4" height="4.4" stroke="#7c7cf0"/>
<rect x="408.22" y="300.02" width="4.4" height="4.4" stroke="#7c7cf0"/>
<rect x="408.36" y="297.65" width="4.4" height="4.4" stroke="#7c7cf0"/>
<rect x="408.50" y="299.14" width="4.4" height="4.4" stroke="#7c7cf0"/>
<rect x="408.63" y="301.47" width="4.4" height="4.4" stroke="#7c7cf0"/>
<rect x="408.77" y="302.02" width="4.4" height="4.4" stroke="#7c7cf0"/>
<rect x="408.91" y="300.15" width="4.4" height="4.4" stroke="#7c7cf0"/>
<rect x="409.05" y="299.95" width="4.4" height="4.4" stroke="#7c7cf0"/>
<rect x="409.18" y="299.25" width="4.4" height="4.4" stroke="#7c7cf0"/>
<rect x="409.32" y="303.76" width="4.4" height="4.4" stroke="#7c7cf0"/>
<rect x="409.45" y="302.32" width="4.4" height="4.4" stroke="#7c7cf0"/>
<rect x="409.59" y="301.28" width="4.4" height="4.4" stroke="#7c7cf0"/>
<rect x="409.72" y="297.41" width="4.4" height="4.4" stroke="#7c7cf0"/>
<rect x="409.86" y="306.74" width="4.4" height="4.4" stroke="#7c7cf0"/>
<rect x="409.99" y="300.39" width="4.4" height="4.4" stroke="#7c7cf0"/>
<rect x="410.12" y="302.84" width="4.4" height="4.4" stroke="#7c7cf0"/>
<rect x="410.26" y="300.66" width="4.4" height="4.4" stroke="#7c7cf0"/>
<rect x="410.39" y="302.99" width="4.4" height="4.4" stroke="#7c7cf0"/>
<rect x="410.52" y="301.06" width="4.4" height="4.4" stroke="#7c7cf0"/>
<rect x="410.66" y="298.30" width="4.4" height="4.4" stroke="#7c7cf0"/>
<rect x="410.79" y="301.33" width="4.4" height="4.4" stroke="#7c7cf0"/>
<rect x="410.92" y="301.26" width="4.4" height="4.4" stroke="#7c7cf0"/>
<rect x="411.05" y="301.53" width="4.4" height="4.4" stroke="#7c7cf0"/>
<rect x="411.18" y="304.39" width="4.4" height="4.4" stroke="#7c7cf0"/>
<rect x="411.31" y="301.36" width="4.4" height="4.4" stroke="#7c7cf0"/>
<rect x="411.44" y="303.33" width="4.4" height="4.4" stroke="#7c7cf0"/>
<rect x="411.57" y="304.94" width="4.4" height="4.4" stroke="#7c7cf0"/>
<rect x="411.70" y="303.16" width="4.4" height="4.4" stroke="#7c7cf0"/>
<rect x="411.83" y="303.75" width="4.4" height="4.4" stroke="#7c7cf0"/>
<rect x="411.96" y="301.45" width="4.4" height="4.4" stroke="#7c7cf0"/>
<rect x="412.09" y="303.55" width="4.4" height="4.4" stroke="#7c7cf0"/>
<rect x="412.22" y="304.89" width="4.4" height="4.4" stroke="#7c7cf0"/>
<rect x="412.35" y="300.05" width="4.4" height="4.4" stroke="#7c7cf0"/>
<rect x="412.48" y="301.34" width="4.4" height="4.4" stroke="#7c7cf0"/>
<rect x="412.60" y="300.74" width="4.4" height="4.4" stroke="#7c7cf0"/>
<rect x="412.73" y="302.53" width="4.4" height="4.4" stroke="#7c7cf0"/>
<rect x="412.86" y="304.47" width="4.4" height="4.4" stroke="#7c7cf0"/>
<rect x="412.98" y="305.38" width="4.4" height="4.4" stroke="#7c7cf0"/>
<rect x="413.11" y="305.15" width="4.4" height="4.4" stroke="#7c7cf0"/>
<rect x="413.24" y="302.14" width="4.4" height="4.4" stroke="#7c7cf0"/>
<rect x="413.36" y="304.40" width="4.4" height="4.4" stroke="#7c7cf0"/>
<rect x="413.49" y="308.62" width="4.4" height="4.4" stroke="#7c7cf0"/>
<rect x="413.61" y="305.04" width="4.4" height="4.4" stroke="#7c7cf0"/>
<rect x="413.74" y="308.72" width="4.4" height="4.4" stroke="#7c7cf0"/>
<rect x="413.86" y="304.76" width="4.4" height="4.4" stroke="#7c7cf0"/>
<rect x="413.99" y="308.44" width="4.4" height="4.4" stroke="#7c7cf0"/>
<rect x="414.11" y="308.73" width="4.4" height="4.4" stroke="#7c7cf0"/>
<rect x="414.23" y="305.25" width="4.4" height="4.4" stroke="#7c7cf0"/>
<rect x="414.36" y="305.89" width="4.4" height="4.4" stroke="#7c7cf0"/>
<rect x="414.48" y="310.18" width="4.4" height="4.4" stroke="#7c7cf0"/>
<rect x="414.60" y="303.96" width="4.4" height="4.4" stroke="#7c7cf0"/>
<rect x="414.72" y="300.34" width="4.4" height="4.4" stroke="#7c7cf0"/>
<rect x="414.85" y="310.11" width="4.4" height="4.4" stroke="#7c7cf0"/>
<rect x="414.97" y="301.47" width="4.4" height="4.4" stroke="#7c7cf0"/>
<rect x="415.09" y="308.26" width="4.4" height="4.4" stroke="#7c7cf0"/>
<rect x="415.21" y="307.87" width="4.4" height="4.4" stroke="#7c7cf0"/>
<rect x="415.33" y="307.15" width="4.4" height="4.4" stroke="#7c7cf0"/>
<rect x="415.45" y="310.68" width="4.4" height="4.4" stroke="#7c7cf0"/>
<rect x="415.57" y="303.42" width="4.4" height="4.4" stroke="#7c7cf0"/>
<rect x="415.69" y="305.71" width="4.4" height="4.4" stroke="#7c7cf0"/>
<rect x="415.81" y="309.21" width="4.4" height="4.4" stroke="#7c7cf0"/>
<rect x="415.93" y="308.04" width="4.4" height="4.4" stroke="#7c7cf0"/>
<rect x="416.05" y="311.55" width="4.4" height="4.4" stroke="#7c7cf0"/>
<rect x="416.17" y="308.49" width="4.4" height="4.4" stroke="#7c7cf0"/>
<rect x="416.29" y="305.09" width="4.4" height="4.4" stroke="#7c7cf0"/>
<rect x="416.41" y="312.50" width="4.4" height="4.4" stroke="#7c7cf0"/>
<rect x="416.53" y="309.11" width="4.4" height="4.4" stroke="#7c7cf0"/>
<rect x="416.65" y="307.62" width="4.4" height="4.4" stroke="#7c7cf0"/>
<rect x="416.76" y="305.25" width="4.4" height="4.4" stroke="#7c7cf0"/>
<rect x="416.88" y="304.53" width="4.4" height="4.4" stroke="#7c7cf0"/>
<rect x="417.00" y="309.67" width="4.4" height="4.4" stroke="#7c7cf0"/>
<rect x="417.12" y="310.59" width="4.4" height="4.4" stroke="#7c7cf0"/>
<rect x="417.23" y="307.38" width="4.4" height="4.4" stroke="#7c7cf0"/>
<rect x="417.35" y="309.79" width="4.4" height="4.4" stroke="#7c7cf0"/>
<rect x="417.47" y="309.76" width="4.4" height="4.4" stroke="#7c7cf0"/>
<rect x="417.58" y="305.96" width="4.4" height="4.4" stroke="#7c7cf0"/>
<rect x="417.70" y="304.35" width="4.4" height="4.4" stroke="#7c7cf0"/>
<rect x="417.81" y="308.50" width="4.4" height="4.4" stroke="#7c7cf0"/>
<rect x="417.93" y="309.93" width="4.4" height="4.4" stroke="#7c7cf0"/>
<rect x="418.04" y="307.87" width="4.4" height="4.4" stroke="#7c7cf0"/>
<rect x="418.16" y="315.03" width="4.4" height="4.4" stroke="#7c7cf0"/>
<rect x="418.27" y="309.80" width="4.4" height="4.4" stroke="#7c7cf0"/>
<rect x="418.39" y="312.92" width="4.4" height="4.4" stroke="#7c7cf0"/>
<rect x="418.50" y="303.35" width="4.4" height="4.4" stroke="#7c7cf0"/>
<rect x="418.62" y="308.03" width="4.4" height="4.4" stroke="#7c7cf0"/>
<rect x="418.73" y="309.82" width="4.4" height="4.4" stroke="#7c7cf0"/>
<rect x="418.84" y="310.92" width="4.4" height="4.4" stroke="#7c7cf0"/>
<rect x="418.96" y="317.18" width="4.4" height="4.4" stroke="#7c7cf0"/>
<rect x="419.07" y="308.51" width="4.4" height="4.4" stroke="#7c7cf0"/>
<rect x="419.18" y="305.94" width="4.4" height="4.4" stroke="#7c7cf0"/>
<rect x="419.29" y="312.98" width="4.4" height="4.4" stroke="#7c7cf0"/>
<rect x="419.40" y="308.95" width="4.4" height="4.4" stroke="#7c7cf0"/>
<rect x="419.52" y="308.95" width="4.4" height="4.4" stroke="#7c7cf0"/>
<rect x="419.63" y="315.79" width="4.4" height="4.4" stroke="#7c7cf0"/>
<rect x="419.74" y="308.55" width="4.4" height="4.4" stroke="#7c7cf0"/>
<rect x="419.85" y="307.41" width="4.4" height="4.4" stroke="#7c7cf0"/>
<rect x="419.96" y="310.89" width="4.4" height="4.4" stroke="#7c7cf0"/>
<rect x="420.07" y="311.88" width="4.4" height="4.4" stroke="#7c7cf0"/>
<rect x="420.18" y="309.45" width="4.4" height="4.4" stroke="#7c7cf0"/>
<rect x="420.29" y="316.57" width="4.4" height="4.4" stroke="#7c7cf0"/>
<rect x="420.40" y="311.77" width="4.4" height="4.4" stroke="#7c7cf0"/>
<rect x="420.51" y="308.99" width="4.4" height="4.4" stroke="#7c7cf0"/>
<rect x="420.62" y="316.06" width="4.4" height="4.4" stroke="#7c7cf0"/>
<rect x="420.73" y="309.40" width="4.4" height="4.4" stroke="#7c7cf0"/>
<rect x="420.84" y="313.81" width="4.4" height="4.4" stroke="#7c7cf0"/>
<rect x="420.95" y="319.01" width="4.4" height="4.4" stroke="#7c7cf0"/>
<rect x="421.06" y="313.10" width="4.4" height="4.4" stroke="#7c7cf0"/>
<rect x="421.17" y="315.88" width="4.4" height="4.4" stroke="#7c7cf0"/>
<rect x="421.27" y="312.03" width="4.4" height="4.4" stroke="#7c7cf0"/>
<rect x="421.38" y="316.75" width="4.4" height="4.4" stroke="#7c7cf0"/>
<rect x="421.49" y="310.01" width="4.4" height="4.4" stroke="#7c7cf0"/>
<rect x="421.60" y="315.67" width="4.4" height="4.4" stroke="#7c7cf0"/>
<rect x="421.70" y="312.39" width="4.4" height="4.4" stroke="#7c7cf0"/>
<rect x="421.81" y="315.47" width="4.4" height="4.4" stroke="#7c7cf0"/>
<rect x="421.92" y="314.75" width="4.4" height="4.4" stroke="#7c7cf0"/>
<rect x="422.03" y="310.12" width="4.4" height="4.4" stroke="#7c7cf0"/>
<rect x="422.13" y="313.30" width="4.4" height="4.4" stroke="#7c7cf0"/>
<rect x="422.24" y="315.34" width="4.4" height="4.4" stroke="#7c7cf0"/>
<rect x="422.34" y="318.16" width="4.4" height="4.4" stroke="#7c7cf0"/>
<rect x="422.45" y="310.67" width="4.4" height="4.4" stroke="#7c7cf0"/>
<rect x="422.56" y="312.13" width="4.4" height="4.4" stroke="#7c7cf0"/>
<rect x="422.66" y="315.61" width="4.4" height="4.4" stroke="#7c7cf0"/>
<rect x="422.77" y="313.92" width="4.4" height="4.4" stroke="#7c7cf0"/>
<rect x="422.87" y="318.10" width="4.4" height="4.4" stroke="#7c7cf0"/>
<rect x="422.98" y="318.18" width="4.4" height="4.4" stroke="#7c7cf0"/>
<rect x="423.08" y="317.70" width="4.4" height="4.4" stroke="#7c7cf0"/>
<rect x="423.18" y="314.03" width="4.4" height="4.4" stroke="#7c7cf0"/>
<rect x="423.29" y="314.33" width="4.4" height="4.4" stroke="#7c7cf0"/>
<rect x="423.39" y="317.82" width="4.4" height="4.4" stroke="#7c7cf0"/>
<rect x="423.50" y="313.13" width="4.4" height="4.4" stroke="#7c7cf0"/>
<rect x="423.60" y="313.10" width="4.4" height="4.4" stroke="#7c7cf0"/>
<rect x="423.70" y="315.20" width="4.4" height="4.4" stroke="#7c7cf0"/>
<rect x="423.81" y="312.49" width="4.4" height="4.4" stroke="#7c7cf0"/>
<rect x="423.91" y="316.94" width="4.4" height="4.4" stroke="#7c7cf0"/>
<rect x="424.01" y="316.49" width="4.4" height="4.4" stroke="#7c7cf0"/>
<rect x="424.11" y="314.68" width="4.4" height="4.4" stroke="#7c7cf0"/>
<rect x="424.22" y="316.47" width="4.4" height="4.4" stroke="#7c7cf0"/>
<rect x="424.32" y="313.85" width="4.4" height="4.4" stroke="#7c7cf0"/>
<rect x="424.42" y="320.74" width="4.4" height="4.4" stroke="#7c7cf0"/>
<rect x="424.52" y="311.98" width="4.4" height="4.4" stroke="#7c7cf0"/>
<rect x="424.62" y="319.43" width="4.4" height="4.4" stroke="#7c7cf0"/>
<rect x="424.72" y="317.50" width="4.4" height="4.4" stroke="#7c7cf0"/>
<rect x="424.83" y="321.67" width="4.4" height="4.4" stroke="#7c7cf0"/>
<rect x="424.93" y="315.17" width="4.4" height="4.4" stroke="#7c7cf0"/>
<rect x="425.03" y="313.02" width="4.4" height="4.4" stroke="#7c7cf0"/>
<rect x="425.13" y="313.81" width="4.4" height="4.4" stroke="#7c7cf0"/>
<rect x="425.23" y="314.72" width="4.4" height="4.4" stroke="#7c7cf0"/>
<rect x="425.33" y="322.92" width="4.4" height="4.4" stroke="#7c7cf0"/>
<rect x="425.43" y="320.42" width="4.4" height="4.4" stroke="#7c7cf0"/>
<rect x="425.53" y="319.46" width="4.4" height="4.4" stroke="#7c7cf0"/>
<rect x="425.63" y="321.19" width="4.4" height="4.4" stroke="#7c7cf0"/>
<rect x="425.73" y="314.29" width="4.4" height="4.4" stroke="#7c7cf0"/>
<rect x="425.83" y="317.61" width="4.4" height="4.4" stroke="#7c7cf0"/>
<rect x="425.92" y="318.44" width="4.4" height="4.4" stroke="#7c7cf0"/>
<rect x="426.02" y="316.79" width="4.4" height="4.4" stroke="#7c7cf0"/>
<rect x="426.12" y="321.87" width="4.4" height="4.4" stroke="#7c7cf0"/>
<rect x="426.22" y="321.84" width="4.4" height="4.4" stroke="#7c7cf0"/>
<rect x="426.32" y="321.87" width="4.4" height="4.4" stroke="#7c7cf0"/>
<rect x="426.42" y="317.21" width="4.4" height="4.4" stroke="#7c7cf0"/>
<rect x="426.51" y="317.87" width="4.4" height="4.4" stroke="#7c7cf0"/>
<rect x="426.61" y="317.16" width="4.4" height="4.4" stroke="#7c7cf0"/>
<rect x="426.71" y="315.52" width="4.4" height="4.4" stroke="#7c7cf0"/>
<rect x="426.81" y="324.16" width="4.4" height="4.4" stroke="#7c7cf0"/>
<rect x="426.90" y="321.49" width="4.4" height="4.4" stroke="#7c7cf0"/>
<rect x="427.00" y="319.12" width="4.4" height="4.4" stroke="#7c7cf0"/>
<rect x="427.10" y="324.51" width="4.4" height="4.4" stroke="#7c7cf0"/>
<rect x="427.19" y="321.75" width="4.4" height="4.4" stroke="#7c7cf0"/>
<rect x="427.29" y="316.39" width="4.4" height="4.4" stroke="#7c7cf0"/>
<rect x="427.39" y="316.18" width="4.4" height="4.4" stroke="#7c7cf0"/>
<rect x="427.48" y="316.38" width="4.4" height="4.4" stroke="#7c7cf0"/>
<rect x="427.58" y="320.18" width="4.4" height="4.4" stroke="#7c7cf0"/>
<rect x="427.68" y="321.20" width="4.4" height="4.4" stroke="#7c7cf0"/>
<rect x="427.77" y="316.69" width="4.4" height="4.4" stroke="#7c7cf0"/>
<rect x="427.87" y="322.02" width="4.4" height="4.4" stroke="#7c7cf0"/>
<rect x="427.96" y="319.57" width="4.4" height="4.4" stroke="#7c7cf0"/>
<rect x="428.06" y="316.13" width="4.4" height="4.4" stroke="#7c7cf0"/>
<rect x="428.15" y="322.35" width="4.4" height="4.4" stroke="#7c7cf0"/>
<rect x="428.25" y="323.35" width="4.4" height="4.4" stroke="#7c7cf0"/>
<rect x="428.34" y="321.29" width="4.4" height="4.4" stroke="#7c7cf0"/>
<rect x="428.43" y="319.19" width="4.4" height="4.4" stroke="#7c7cf0"/>
<rect x="428.53" y="319.72" width="4.4" height="4.4" stroke="#7c7cf0"/>
<rect x="428.62" y="321.03" width="4.4" height="4.4" stroke="#7c7cf0"/>
<rect x="428.72" y="319.67" width="4.4" height="4.4" stroke="#7c7cf0"/>
<rect x="428.81" y="327.70" width="4.4" height="4.4" stroke="#7c7cf0"/>
<rect x="428.90" y="325.10" width="4.4" height="4.4" stroke="#7c7cf0"/>
<rect x="429.00" y="321.45" width="4.4" height="4.4" stroke="#7c7cf0"/>
<rect x="429.09" y="325.60" width="4.4" height="4.4" stroke="#7c7cf0"/>
<rect x="429.18" y="327.25" width="4.4" height="4.4" stroke="#7c7cf0"/>
<rect x="429.28" y="326.88" width="4.4" height="4.4" stroke="#7c7cf0"/>
<rect x="429.37" y="325.93" width="4.4" height="4.4" stroke="#7c7cf0"/>
<rect x="429.46" y="323.29" width="4.4" height="4.4" stroke="#7c7cf0"/>
<rect x="429.55" y="326.56" width="4.4" height="4.4" stroke="#7c7cf0"/>
<rect x="429.65" y="321.97" width="4.4" height="4.4" stroke="#7c7cf0"/>
<rect x="429.74" y="316.60" width="4.4" height="4.4" stroke="#7c7cf0"/>
<rect x="429.83" y="323.64" width="4.4" height="4.4" stroke="#7c7cf0"/>
<rect x="429.92" y="318.39" width="4.4" height="4.4" stroke="#7c7cf0"/>
<rect x="430.01" y="322.22" width="4.4" height="4.4" stroke="#7c7cf0"/>
<rect x="430.11" y="327.66" width="4.4" height="4.4" stroke="#7c7cf0"/>
<rect x="430.20" y="324.51" width="4.4" height="4.4" stroke="#7c7cf0"/>
<rect x="430.29" y="327.38" width="4.4" height="4.4" stroke="#7c7cf0"/>
<rect x="430.38" y="320.83" width="4.4" height="4.4" stroke="#7c7cf0"/>
<rect x="430.47" y="328.28" width="4.4" height="4.4" stroke="#7c7cf0"/>
<rect x="430.56" y="318.92" width="4.4" height="4.4" stroke="#7c7cf0"/>
<rect x="430.65" y="321.88" width="4.4" height="4.4" stroke="#7c7cf0"/>
<rect x="430.74" y="331.98" width="4.4" height="4.4" stroke="#7c7cf0"/>
<rect x="430.83" y="321.30" width="4.4" height="4.4" stroke="#7c7cf0"/>
<rect x="430.92" y="318.44" width="4.4" height="4.4" stroke="#7c7cf0"/>
<rect x="431.01" y="327.61" width="4.4" height="4.4" stroke="#7c7cf0"/>
<rect x="431.10" y="320.84" width="4.4" height="4.4" stroke="#7c7cf0"/>
<rect x="431.19" y="331.76" width="4.4" height="4.4" stroke="#7c7cf0"/>
<rect x="431.28" y="323.90" width="4.4" height="4.4" stroke="#7c7cf0"/>
<rect x="431.37" y="331.48" width="4.4" height="4.4" stroke="#7c7cf0"/>
<rect x="431.46" y="323.22" width="4.4" height="4.4" stroke="#7c7cf0"/>
<rect x="431.55" y="332.23" width="4.4" height="4.4" stroke="#7c7cf0"/>
<rect x="431.64" y="334.36" width="4.4" height="4.4" stroke="#7c7cf0"/>
<rect x="431.72" y="323.89" width="4.4" height="4.4" stroke="#7c7cf0"/>
<rect x="431.81" y="316.54" width="4.4" height="4.4" stroke="#7c7cf0"/>
<rect x="431.90" y="328.02" width="4.4" height="4.4" stroke="#7c7cf0"/>
<rect x="431.99" y="322.49" width="4.4" height="4.4" stroke="#7c7cf0"/>
<rect x="432.08" y="325.45" width="4.4" height="4.4" stroke="#7c7cf0"/>
<rect x="432.17" y="327.29" width="4.4" height="4.4" stroke="#7c7cf0"/>
<rect x="432.25" y="323.66" width="4.4" height="4.4" stroke="#7c7cf0"/>
<rect x="432.34" y="319.67" width="4.4" height="4.4" stroke="#7c7cf0"/>
<rect x="432.43" y="331.28" width="4.4" height="4.4" stroke="#7c7cf0"/>
<rect x="432.52" y="324.19" width="4.4" height="4.4" stroke="#7c7cf0"/>
<rect x="432.60" y="325.17" width="4.4" height="4.4" stroke="#7c7cf0"/>
<rect x="432.69" y="332.40" width="4.4" height="4.4" stroke="#7c7cf0"/>
<rect x="432.78" y="320.27" width="4.4" height="4.4" stroke="#7c7cf0"/>
<rect x="432.86" y="319.01" width="4.4" height="4.4" stroke="#7c7cf0"/>
<rect x="432.95" y="330.86" width="4.4" height="4.4" stroke="#7c7cf0"/>
<rect x="433.04" y="320.06" width="4.4" height="4.4" stroke="#7c7cf0"/>
<rect x="433.12" y="326.99" width="4.4" height="4.4" stroke="#7c7cf0"/>
<rect x="433.21" y="328.00" width="4.4" height="4.4" stroke="#7c7cf0"/>
<rect x="433.30" y="321.30" width="4.4" height="4.4" stroke="#7c7cf0"/>
<rect x="433.38" y="326.62" width="4.4" height="4.4" stroke="#7c7cf0"/>
<rect x="433.47" y="326.33" width="4.4" height="4.4" stroke="#7c7cf0"/>
<rect x="433.55" y="321.54" width="4.4" height="4.4" stroke="#7c7cf0"/>
<rect x="433.64" y="322.58" width="4.4" height="4.4" stroke="#7c7cf0"/>
<rect x="433.72" y="324.30" width="4.4" height="4.4" stroke="#7c7cf0"/>
<rect x="433.81" y="333.89" width="4.4" height="4.4" stroke="#7c7cf0"/>
<rect x="433.89" y="334.72" width="4.4" height="4.4" stroke="#7c7cf0"/>
<rect x="433.98" y="323.64" width="4.4" height="4.4" stroke="#7c7cf0"/>
</g>
<circle cx="97.9" cy="227.2" r="2.3" fill="#fff" stroke="#9a9ae2" stroke-width="0.7"/>
<g fill="#f00">
<rect x="234.83" y="249.41" width="3.8" height="3.8"/>
<rect x="238.46" y="249.73" width="3.8" height="3.8"/>
<rect x="241.86" y="250.30" width="3.8" height="3.8"/>
<rect x="245.05" y="250.76" width="3.8" height="3.8"/>
<rect x="248.06" y="251.40" width="3.8" height="3.8"/>
<rect x="250.90" y="251.76" width="3.8" height="3.8"/>
<rect x="253.60" y="251.96" width="3.8" height="3.8"/>
<rect x="256.17" y="252.19" width="3.8" height="3.8"/>
<rect x="258.61" y="252.35" width="3.8" height="3.8"/>
<rect x="260.95" y="252.61" width="3.8" height="3.8"/>
<rect x="263.19" y="252.75" width="3.8" height="3.8"/>
<rect x="265.34" y="253.08" width="3.8" height="3.8"/>
<rect x="267.40" y="253.15" width="3.8" height="3.8"/>
<rect x="269.39" y="253.31" width="3.8" height="3.8"/>
<rect x="271.30" y="253.59" width="3.8" height="3.8"/>
<rect x="273.15" y="253.48" width="3.8" height="3.8"/>
<rect x="274.93" y="253.76" width="3.8" height="3.8"/>
<rect x="276.66" y="253.84" width="3.8" height="3.8"/>
<rect x="278.33" y="254.19" width="3.8" height="3.8"/>
<rect x="279.95" y="254.35" width="3.8" height="3.8"/>
<rect x="281.52" y="254.45" width="3.8" height="3.8"/>
<rect x="283.04" y="254.56" width="3.8" height="3.8"/>
<rect x="284.53" y="254.62" width="3.8" height="3.8"/>
<rect x="285.97" y="254.80" width="3.8" height="3.8"/>
<rect x="287.37" y="255.02" width="3.8" height="3.8"/>
<rect x="288.74" y="255.21" width="3.8" height="3.8"/>
<rect x="290.07" y="255.30" width="3.8" height="3.8"/>
<rect x="291.37" y="255.23" width="3.8" height="3.8"/>
<rect x="292.64" y="255.60" width="3.8" height="3.8"/>
<rect x="293.87" y="255.62" width="3.8" height="3.8"/>
<rect x="295.08" y="255.73" width="3.8" height="3.8"/>
<rect x="296.27" y="256.09" width="3.8" height="3.8"/>
<rect x="297.42" y="256.04" width="3.8" height="3.8"/>
<rect x="298.55" y="256.04" width="3.8" height="3.8"/>
<rect x="299.66" y="256.55" width="3.8" height="3.8"/>
<rect x="300.75" y="256.49" width="3.8" height="3.8"/>
<rect x="301.81" y="256.60" width="3.8" height="3.8"/>
<rect x="302.85" y="256.82" width="3.8" height="3.8"/>
<rect x="303.87" y="256.80" width="3.8" height="3.8"/>
<rect x="304.88" y="257.00" width="3.8" height="3.8"/>
<rect x="305.86" y="257.29" width="3.8" height="3.8"/>
<rect x="306.83" y="257.17" width="3.8" height="3.8"/>
<rect x="307.77" y="257.32" width="3.8" height="3.8"/>
<rect x="308.70" y="257.42" width="3.8" height="3.8"/>
<rect x="309.62" y="257.50" width="3.8" height="3.8"/>
<rect x="310.52" y="257.76" width="3.8" height="3.8"/>
<rect x="311.40" y="257.92" width="3.8" height="3.8"/>
<rect x="312.27" y="258.22" width="3.8" height="3.8"/>
<rect x="313.13" y="258.13" width="3.8" height="3.8"/>
<rect x="313.97" y="258.41" width="3.8" height="3.8"/>
<rect x="314.80" y="258.52" width="3.8" height="3.8"/>
<rect x="315.61" y="258.75" width="3.8" height="3.8"/>
<rect x="316.42" y="258.85" width="3.8" height="3.8"/>
<rect x="317.21" y="258.93" width="3.8" height="3.8"/>
<rect x="317.99" y="258.86" width="3.8" height="3.8"/>
<rect x="318.76" y="259.37" width="3.8" height="3.8"/>
<rect x="319.51" y="259.44" width="3.8" height="3.8"/>
<rect x="320.26" y="259.38" width="3.8" height="3.8"/>
<rect x="321.00" y="259.38" width="3.8" height="3.8"/>
<rect x="321.72" y="259.61" width="3.8" height="3.8"/>
<rect x="322.44" y="260.03" width="3.8" height="3.8"/>
<rect x="323.14" y="260.18" width="3.8" height="3.8"/>
<rect x="323.84" y="260.04" width="3.8" height="3.8"/>
<rect x="324.53" y="260.30" width="3.8" height="3.8"/>
<rect x="325.21" y="260.48" width="3.8" height="3.8"/>
<rect x="325.88" y="260.37" width="3.8" height="3.8"/>
<rect x="326.54" y="260.49" width="3.8" height="3.8"/>
<rect x="327.19" y="260.74" width="3.8" height="3.8"/>
<rect x="327.84" y="260.86" width="3.8" height="3.8"/>
<rect x="328.48" y="260.97" width="3.8" height="3.8"/>
<rect x="329.11" y="260.97" width="3.8" height="3.8"/>
<rect x="329.73" y="261.22" width="3.8" height="3.8"/>
<rect x="330.34" y="261.37" width="3.8" height="3.8"/>
<rect x="330.95" y="261.50" width="3.8" height="3.8"/>
<rect x="331.55" y="261.87" width="3.8" height="3.8"/>
<rect x="332.15" y="261.68" width="3.8" height="3.8"/>
<rect x="332.74" y="261.85" width="3.8" height="3.8"/>
<rect x="333.32" y="262.03" width="3.8" height="3.8"/>
<rect x="333.89" y="262.45" width="3.8" height="3.8"/>
<rect x="334.46" y="262.44" width="3.8" height="3.8"/>
<rect x="335.02" y="262.40" width="3.8" height="3.8"/>
<rect x="335.58" y="262.84" width="3.8" height="3.8"/>
<rect x="336.13" y="262.79" width="3.8" height="3.8"/>
<rect x="336.68" y="262.78" width="3.8" height="3.8"/>
<rect x="337.22" y="263.18" width="3.8" height="3.8"/>
<rect x="337.75" y="262.98" width="3.8" height="3.8"/>
<rect x="338.28" y="263.24" width="3.8" height="3.8"/>
<rect x="338.80" y="263.45" width="3.8" height="3.8"/>
<rect x="339.32" y="263.53" width="3.8" height="3.8"/>
<rect x="339.84" y="263.63" width="3.8" height="3.8"/>
<rect x="340.34" y="263.82" width="3.8" height="3.8"/>
<rect x="340.85" y="263.84" width="3.8" height="3.8"/>
<rect x="341.35" y="264.18" width="3.8" height="3.8"/>
<rect x="341.84" y="264.29" width="3.8" height="3.8"/>
<rect x="342.33" y="264.25" width="3.8" height="3.8"/>
<rect x="342.81" y="264.50" width="3.8" height="3.8"/>
<rect x="343.29" y="264.74" width="3.8" height="3.8"/>
<rect x="343.77" y="264.67" width="3.8" height="3.8"/>
<rect x="344.24" y="264.74" width="3.8" height="3.8"/>
<rect x="344.71" y="265.09" width="3.8" height="3.8"/>
<rect x="345.17" y="265.33" width="3.8" height="3.8"/>
<rect x="345.63" y="265.32" width="3.8" height="3.8"/>
<rect x="346.09" y="265.46" width="3.8" height="3.8"/>
<rect x="346.54" y="265.61" width="3.8" height="3.8"/>
<rect x="346.99" y="265.55" width="3.8" height="3.8"/>
<rect x="347.43" y="265.96" width="3.8" height="3.8"/>
<rect x="347.87" y="265.83" width="3.8" height="3.8"/>
<rect x="348.31" y="266.26" width="3.8" height="3.8"/>
<rect x="348.74" y="266.33" width="3.8" height="3.8"/>
<rect x="349.17" y="266.31" width="3.8" height="3.8"/>
<rect x="349.60" y="266.38" width="3.8" height="3.8"/>
<rect x="350.02" y="266.55" width="3.8" height="3.8"/>
<rect x="350.44" y="266.74" width="3.8" height="3.8"/>
<rect x="350.86" y="266.90" width="3.8" height="3.8"/>
<rect x="351.27" y="267.03" width="3.8" height="3.8"/>
<rect x="351.68" y="267.11" width="3.8" height="3.8"/>
<rect x="352.08" y="267.33" width="3.8" height="3.8"/>
<rect x="352.49" y="267.42" width="3.8" height="3.8"/>
<rect x="352.89" y="267.52" width="3.8" height="3.8"/>
<rect x="353.28" y="267.71" width="3.8" height="3.8"/>
<rect x="353.68" y="267.76" width="3.8" height="3.8"/>
<rect x="354.07" y="267.92" width="3.8" height="3.8"/>
<rect x="354.46" y="267.89" width="3.8" height="3.8"/>
<rect x="354.84" y="268.21" width="3.8" height="3.8"/>
<rect x="355.23" y="268.43" width="3.8" height="3.8"/>
<rect x="355.61" y="268.56" width="3.8" height="3.8"/>
<rect x="355.98" y="268.65" width="3.8" height="3.8"/>
<rect x="356.36" y="268.68" width="3.8" height="3.8"/>
<rect x="356.73" y="268.95" width="3.8" height="3.8"/>
<rect x="357.10" y="269.00" width="3.8" height="3.8"/>
<rect x="357.47" y="268.97" width="3.8" height="3.8"/>
<rect x="357.83" y="269.54" width="3.8" height="3.8"/>
<rect x="358.19" y="269.58" width="3.8" height="3.8"/>
<rect x="358.55" y="269.55" width="3.8" height="3.8"/>
<rect x="358.91" y="269.67" width="3.8" height="3.8"/>
<rect x="359.26" y="269.82" width="3.8" height="3.8"/>
<rect x="359.61" y="270.03" width="3.8" height="3.8"/>
<rect x="359.96" y="270.04" width="3.8" height="3.8"/>
<rect x="360.31" y="270.21" width="3.8" height="3.8"/>
<rect x="360.66" y="270.44" width="3.8" height="3.8"/>
<rect x="361.00" y="270.28" width="3.8" height="3.8"/>
<rect x="361.34" y="270.60" width="3.8" height="3.8"/>
<rect x="361.68" y="270.84" width="3.8" height="3.8"/>
<rect x="362.01" y="270.92" width="3.8" height="3.8"/>
<rect x="362.35" y="271.07" width="3.8" height="3.8"/>
<rect x="362.68" y="271.18" width="3.8" height="3.8"/>
<rect x="363.01" y="271.54" width="3.8" height="3.8"/>
<rect x="363.34" y="271.50" width="3.8" height="3.8"/>
<rect x="363.66" y="271.46" width="3.8" height="3.8"/>
<rect x="363.99" y="271.84" width="3.8" height="3.8"/>
<rect x="364.31" y="271.85" width="3.8" height="3.8"/>
<rect x="364.63" y="271.86" width="3.8" height="3.8"/>
<rect x="364.95" y="272.01" width="3.8" height="3.8"/>
<rect x="365.26" y="272.07" width="3.8" height="3.8"/>
<rect x="365.58" y="272.56" width="3.8" height="3.8"/>
<rect x="365.89" y="272.54" width="3.8" height="3.8"/>
<rect x="366.20" y="272.67" width="3.8" height="3.8"/>
<rect x="366.51" y="272.70" width="3.8" height="3.8"/>
<rect x="366.81" y="272.78" width="3.8" height="3.8"/>
<rect x="367.12" y="273.26" width="3.8" height="3.8"/>
<rect x="367.42" y="273.04" width="3.8" height="3.8"/>
<rect x="367.72" y="273.46" width="3.8" height="3.8"/>
<rect x="368.02" y="273.35" width="3.8" height="3.8"/>
<rect x="368.32" y="273.73" width="3.8" height="3.8"/>
<rect x="368.62" y="273.68" width="3.8" height="3.8"/>
<rect x="368.91" y="273.69" width="3.8" height="3.8"/>
<rect x="369.21" y="273.98" width="3.8" height="3.8"/>
<rect x="369.50" y="274.07" width="3.8" height="3.8"/>
<rect x="369.79" y="274.13" width="3.8" height="3.8"/>
<rect x="370.08" y="274.34" width="3.8" height="3.8"/>
<rect x="370.36" y="274.50" width="3.8" height="3.8"/>
<rect x="370.65" y="274.45" width="3.8" height="3.8"/>
<rect x="370.93" y="274.63" width="3.8" height="3.8"/>
<rect x="371.21" y="274.92" width="3.8" height="3.8"/>
<rect x="371.49" y="274.79" width="3.8" height="3.8"/>
<rect x="371.77" y="275.28" width="3.8" height="3.8"/>
<rect x="372.05" y="275.18" width="3.8" height="3.8"/>
<rect x="372.33" y="275.44" width="3.8" height="3.8"/>
<rect x="372.60" y="275.53" width="3.8" height="3.8"/>
<rect x="372.88" y="275.60" width="3.8" height="3.8"/>
<rect x="373.15" y="275.78" width="3.8" height="3.8"/>
<rect x="373.42" y="275.87" width="3.8" height="3.8"/>
<rect x="373.69" y="276.25" width="3.8" height="3.8"/>
<rect x="373.95" y="276.38" width="3.8" height="3.8"/>
<rect x="374.22" y="276.27" width="3.8" height="3.8"/>
<rect x="374.49" y="276.58" width="3.8" height="3.8"/>
<rect x="374.75" y="276.72" width="3.8" height="3.8"/>
<rect x="375.01" y="276.90" width="3.8" height="3.8"/>
<rect x="375.27" y="276.72" width="3.8" height="3.8"/>
<rect x="375.53" y="276.91" width="3.8" height="3.8"/>
<rect x="375.79" y="276.96" width="3.8" height="3.8"/>
<rect x="376.05" y="277.36" width="3.8" height="3.8"/>
<rect x="376.31" y="277.39" width="3.8" height="3.8"/>
<rect x="376.56" y="277.65" width="3.8" height="3.8"/>
<rect x="376.81" y="277.56" width="3.8" height="3.8"/>
<rect x="377.07" y="277.60" width="3.8" height="3.8"/>
<rect x="377.32" y="278.02" width="3.8" height="3.8"/>
<rect x="377.57" y="277.87" width="3.8" height="3.8"/>
<rect x="377.82" y="278.06" width="3.8" height="3.8"/>
<rect x="378.06" y="278.33" width="3.8" height="3.8"/>
<rect x="378.31" y="278.66" width="3.8" height="3.8"/>
<rect x="378.56" y="278.41" width="3.8" height="3.8"/>
<rect x="378.80" y="278.71" width="3.8" height="3.8"/>
<rect x="379.04" y="278.90" width="3.8" height="3.8"/>
<rect x="379.28" y="278.92" width="3.8" height="3.8"/>
<rect x="379.53" y="279.05" width="3.8" height="3.8"/>
<rect x="379.76" y="279.05" width="3.8" height="3.8"/>
<rect x="380.00" y="279.47" width="3.8" height="3.8"/>
<rect x="380.24" y="279.36" width="3.8" height="3.8"/>
<rect x="380.48" y="279.45" width="3.8" height="3.8"/>
<rect x="380.71" y="279.58" width="3.8" height="3.8"/>
<rect x="380.95" y="279.90" width="3.8" height="3.8"/>
<rect x="381.18" y="280.09" width="3.8" height="3.8"/>
<rect x="381.41" y="280.02" width="3.8" height="3.8"/>
<rect x="381.64" y="280.26" width="3.8" height="3.8"/>
<rect x="381.87" y="280.39" width="3.8" height="3.8"/>
<rect x="382.10" y="280.37" width="3.8" height="3.8"/>
<rect x="382.33" y="280.69" width="3.8" height="3.8"/>
<rect x="382.56" y="281.02" width="3.8" height="3.8"/>
<rect x="382.79" y="280.97" width="3.8" height="3.8"/>
<rect x="383.01" y="281.27" width="3.8" height="3.8"/>
<rect x="383.24" y="281.09" width="3.8" height="3.8"/>
<rect x="383.46" y="281.28" width="3.8" height="3.8"/>
<rect x="383.68" y="281.51" width="3.8" height="3.8"/>
<rect x="383.90" y="281.58" width="3.8" height="3.8"/>
<rect x="384.12" y="281.61" width="3.8" height="3.8"/>
<rect x="384.34" y="281.83" width="3.8" height="3.8"/>
<rect x="384.56" y="281.81" width="3.8" height="3.8"/>
<rect x="384.78" y="282.10" width="3.8" height="3.8"/>
<rect x="385.00" y="282.11" width="3.8" height="3.8"/>
<rect x="385.21" y="282.18" width="3.8" height="3.8"/>
<rect x="385.43" y="282.30" width="3.8" height="3.8"/>
<rect x="385.64" y="282.69" width="3.8" height="3.8"/>
<rect x="385.86" y="282.64" width="3.8" height="3.8"/>
<rect x="386.07" y="283.09" width="3.8" height="3.8"/>
<rect x="386.28" y="283.13" width="3.8" height="3.8"/>
<rect x="386.49" y="283.36" width="3.8" height="3.8"/>
<rect x="386.70" y="283.14" width="3.8" height="3.8"/>
<rect x="386.91" y="283.53" width="3.8" height="3.8"/>
<rect x="387.12" y="283.52" width="3.8" height="3.8"/>
<rect x="387.33" y="283.67" width="3.8" height="3.8"/>
<rect x="387.53" y="283.78" width="3.8" height="3.8"/>
<rect x="387.74" y="283.98" width="3.8" height="3.8"/>
<rect x="387.94" y="284.01" width="3.8" height="3.8"/>
<rect x="388.15" y="283.96" width="3.8" height="3.8"/>
<rect x="388.35" y="284.29" width="3.8" height="3.8"/>
<rect x="388.55" y="284.37" width="3.8" height="3.8"/>
<rect x="388.76" y="284.44" width="3.8" height="3.8"/>
<rect x="388.96" y="284.71" width="3.8" height="3.8"/>
<rect x="389.16" y="284.96" width="3.8" height="3.8"/>
<rect x="389.36" y="285.01" width="3.8" height="3.8"/>
<rect x="389.56" y="284.95" width="3.8" height="3.8"/>
<rect x="389.75" y="285.39" width="3.8" height="3.8"/>
<rect x="389.95" y="285.40" width="3.8" height="3.8"/>
<rect x="390.15" y="285.34" width="3.8" height="3.8"/>
<rect x="390.34" y="285.50" width="3.8" height="3.8"/>
<rect x="390.54" y="285.72" width="3.8" height="3.8"/>
<rect x="390.73" y="285.75" width="3.8" height="3.8"/>
<rect x="390.93" y="285.95" width="3.8" height="3.8"/>
<rect x="391.12" y="286.24" width="3.8" height="3.8"/>
<rect x="391.31" y="286.41" width="3.8" height="3.8"/>
<rect x="391.51" y="286.43" width="3.8" height="3.8"/>
<rect x="391.70" y="286.38" width="3.8" height="3.8"/>
<rect x="391.89" y="286.68" width="3.8" height="3.8"/>
<rect x="392.08" y="286.85" width="3.8" height="3.8"/>
<rect x="392.27" y="286.96" width="3.8" height="3.8"/>
<rect x="392.45" y="287.18" width="3.8" height="3.8"/>
<rect x="392.64" y="287.14" width="3.8" height="3.8"/>
<rect x="392.83" y="287.39" width="3.8" height="3.8"/>
<rect x="393.01" y="287.34" width="3.8" height="3.8"/>
<rect x="393.20" y="287.74" width="3.8" height="3.8"/>
<rect x="393.38" y="287.60" width="3.8" height="3.8"/>
<rect x="393.57" y="287.84" width="3.8" height="3.8"/>
<rect x="393.75" y="288.12" width="3.8" height="3.8"/>
<rect x="393.94" y="287.94" width="3.8" height="3.8"/>
<rect x="394.12" y="288.18" width="3.8" height="3.8"/>
<rect x="394.30" y="288.51" width="3.8" height="3.8"/>
<rect x="394.48" y="288.51" width="3.8" height="3.8"/>
<rect x="394.66" y="288.50" width="3.8" height="3.8"/>
<rect x="394.84" y="288.71" width="3.8" height="3.8"/>
<rect x="395.02" y="288.70" width="3.8" height="3.8"/>
<rect x="395.20" y="288.83" width="3.8" height="3.8"/>
<rect x="395.38" y="288.97" width="3.8" height="3.8"/>
<rect x="395.55" y="289.13" width="3.8" height="3.8"/>
<rect x="395.73" y="289.14" width="3.8" height="3.8"/>
<rect x="395.91" y="289.35" width="3.8" height="3.8"/>
<rect x="396.08" y="289.50" width="3.8" height="3.8"/>
<rect x="396.26" y="289.91" width="3.8" height="3.8"/>
<rect x="396.43" y="289.70" width="3.8" height="3.8"/>
<rect x="396.61" y="289.78" width="3.8" height="3.8"/>
<rect x="396.78" y="290.09" width="3.8" height="3.8"/>
<rect x="396.95" y="290.24" width="3.8" height="3.8"/>
<rect x="397.13" y="290.09" width="3.8" height="3.8"/>
<rect x="397.30" y="290.64" width="3.8" height="3.8"/>
<rect x="397.47" y="290.51" width="3.8" height="3.8"/>
<rect x="397.64" y="290.46" width="3.8" height="3.8"/>
<rect x="397.81" y="290.92" width="3.8" height="3.8"/>
<rect x="397.98" y="290.87" width="3.8" height="3.8"/>
<rect x="398.15" y="290.86" width="3.8" height="3.8"/>
<rect x="398.32" y="291.21" width="3.8" height="3.8"/>
<rect x="398.48" y="291.26" width="3.8" height="3.8"/>
<rect x="398.65" y="291.35" width="3.8" height="3.8"/>
<rect x="398.82" y="291.68" width="3.8" height="3.8"/>
<rect x="398.98" y="291.71" width="3.8" height="3.8"/>
<rect x="399.15" y="291.79" width="3.8" height="3.8"/>
<rect x="399.31" y="291.86" width="3.8" height="3.8"/>
<rect x="399.48" y="292.08" width="3.8" height="3.8"/>
<rect x="399.64" y="292.23" width="3.8" height="3.8"/>
<rect x="399.81" y="292.45" width="3.8" height="3.8"/>
<rect x="399.97" y="292.50" width="3.8" height="3.8"/>
<rect x="400.13" y="292.48" width="3.8" height="3.8"/>
<rect x="400.29" y="292.69" width="3.8" height="3.8"/>
<rect x="400.46" y="292.93" width="3.8" height="3.8"/>
<rect x="400.62" y="293.05" width="3.8" height="3.8"/>
<rect x="400.78" y="292.85" width="3.8" height="3.8"/>
<rect x="400.94" y="293.08" width="3.8" height="3.8"/>
<rect x="401.10" y="293.26" width="3.8" height="3.8"/>
<rect x="401.26" y="293.69" width="3.8" height="3.8"/>
<rect x="401.42" y="293.51" width="3.8" height="3.8"/>
<rect x="401.57" y="293.65" width="3.8" height="3.8"/>
<rect x="401.73" y="293.64" width="3.8" height="3.8"/>
<rect x="401.89" y="293.91" width="3.8" height="3.8"/>
<rect x="402.05" y="294.09" width="3.8" height="3.8"/>
<rect x="402.20" y="294.15" width="3.8" height="3.8"/>
<rect x="402.36" y="294.55" width="3.8" height="3.8"/>
<rect x="402.51" y="294.34" width="3.8" height="3.8"/>
<rect x="402.67" y="294.54" width="3.8" height="3.8"/>
<rect x="402.82" y="294.78" width="3.8" height="3.8"/>
<rect x="402.98" y="294.68" width="3.8" height="3.8"/>
<rect x="403.13" y="294.75" width="3.8" height="3.8"/>
<rect x="403.28" y="295.24" width="3.8" height="3.8"/>
<rect x="403.44" y="295.28" width="3.8" height="3.8"/>
<rect x="403.59" y="295.29" width="3.8" height="3.8"/>
<rect x="403.74" y="295.43" width="3.8" height="3.8"/>
<rect x="403.89" y="295.62" width="3.8" height="3.8"/>
<rect x="404.04" y="295.81" width="3.8" height="3.8"/>
<rect x="404.19" y="295.59" width="3.8" height="3.8"/>
<rect x="404.34" y="295.83" width="3.8" height="3.8"/>
<rect x="404.49" y="296.20" width="3.8" height="3.8"/>
<rect x="404.64" y="296.34" width="3.8" height="3.8"/>
<rect x="404.79" y="296.12" width="3.8" height="3.8"/>
<rect x="404.94" y="296.32" width="3.8" height="3.8"/>
<rect x="405.09" y="296.35" width="3.8" height="3.8"/>
<rect x="405.24" y="296.59" width="3.8" height="3.8"/>
<rect x="405.38" y="296.91" width="3.8" height="3.8"/>
<rect x="405.53" y="296.90" width="3.8" height="3.8"/>
<rect x="405.68" y="297.28" width="3.8" height="3.8"/>
<rect x="405.82" y="297.26" width="3.8" height="3.8"/>
<rect x="405.97" y="297.31" width="3.8" height="3.8"/>
<rect x="406.11" y="297.36" width="3.8" height="3.8"/>
<rect x="406.26" y="297.63" width="3.8" height="3.8"/>
<rect x="406.40" y="297.68" width="3.8" height="3.8"/>
<rect x="406.55" y="297.74" width="3.8" height="3.8"/>
<rect x="406.69" y="297.87" width="3.8" height="3.8"/>
<rect x="406.83" y="297.96" width="3.8" height="3.8"/>
<rect x="406.98" y="298.13" width="3.8" height="3.8"/>
<rect x="407.12" y="298.31" width="3.8" height="3.8"/>
<rect x="407.26" y="298.31" width="3.8" height="3.8"/>
<rect x="407.40" y="298.52" width="3.8" height="3.8"/>
<rect x="407.54" y="298.74" width="3.8" height="3.8"/>
<rect x="407.68" y="298.84" width="3.8" height="3.8"/>
<rect x="407.82" y="298.89" width="3.8" height="3.8"/>
<rect x="407.96" y="299.02" width="3.8" height="3.8"/>
<rect x="408.10" y="299.11" width="3.8" height="3.8"/>
<rect x="408.24" y="299.25" width="3.8" height="3.8"/>
<rect x="408.38" y="299.35" width="3.8" height="3.8"/>
<rect x="408.52" y="299.51" width="3.8" height="3.8"/>
<rect x="408.66" y="299.76" width="3.8" height="3.8"/>
<rect x="408.80" y="299.69" width="3.8" height="3.8"/>
<rect x="408.93" y="299.74" width="3.8" height="3.8"/>
<rect x="409.07" y="299.93" width="3.8" height="3.8"/>
<rect x="409.21" y="300.12" width="3.8" height="3.8"/>
<rect x="409.35" y="300.17" width="3.8" height="3.8"/>
<rect x="409.48" y="300.45" width="3.8" height="3.8"/>
<rect x="409.62" y="300.68" width="3.8" height="3.8"/>
<rect x="409.75" y="300.58" width="3.8" height="3.8"/>
<rect x="409.89" y="300.81" width="3.8" height="3.8"/>
<rect x="410.02" y="300.74" width="3.8" height="3.8"/>
<rect x="410.16" y="301.07" width="3.8" height="3.8"/>
<rect x="410.29" y="301.29" width="3.8" height="3.8"/>
<rect x="410.42" y="301.30" width="3.8" height="3.8"/>
<rect x="410.56" y="301.13" width="3.8" height="3.8"/>
<rect x="410.69" y="301.47" width="3.8" height="3.8"/>
<rect x="410.82" y="301.70" width="3.8" height="3.8"/>
<rect x="410.96" y="301.75" width="3.8" height="3.8"/>
<rect x="411.09" y="301.73" width="3.8" height="3.8"/>
<rect x="411.22" y="301.85" width="3.8" height="3.8"/>
<rect x="411.35" y="302.00" width="3.8" height="3.8"/>
<rect x="411.48" y="301.97" width="3.8" height="3.8"/>
<rect x="411.61" y="302.18" width="3.8" height="3.8"/>
<rect x="411.74" y="302.38" width="3.8" height="3.8"/>
<rect x="411.87" y="302.43" width="3.8" height="3.8"/>
<rect x="412.00" y="302.43" width="3.8" height="3.8"/>
<rect x="412.13" y="302.63" width="3.8" height="3.8"/>
<rect x="412.26" y="302.74" width="3.8" height="3.8"/>
<rect x="412.39" y="303.10" width="3.8" height="3.8"/>
<rect x="412.52" y="303.11" width="3.8" height="3.8"/>
<rect x="412.65" y="303.13" width="3.8" height="3.8"/>
<rect x="412.78" y="303.37" width="3.8" height="3.8"/>
<rect x="412.90" y="303.33" width="3.8" height="3.8"/>
<rect x="413.03" y="303.50" width="3.8" height="3.8"/>
<rect x="413.16" y="303.58" width="3.8" height="3.8"/>
<rect x="413.28" y="303.83" width="3.8" height="3.8"/>
<rect x="413.41" y="303.70" width="3.8" height="3.8"/>
<rect x="413.54" y="303.90" width="3.8" height="3.8"/>
<rect x="413.66" y="304.19" width="3.8" height="3.8"/>
<rect x="413.79" y="304.27" width="3.8" height="3.8"/>
<rect x="413.91" y="304.17" width="3.8" height="3.8"/>
<rect x="414.04" y="304.55" width="3.8" height="3.8"/>
<rect x="414.16" y="304.53" width="3.8" height="3.8"/>
<rect x="414.29" y="304.64" width="3.8" height="3.8"/>
<rect x="414.41" y="304.87" width="3.8" height="3.8"/>
<rect x="414.53" y="305.12" width="3.8" height="3.8"/>
<rect x="414.66" y="305.08" width="3.8" height="3.8"/>
<rect x="414.78" y="305.18" width="3.8" height="3.8"/>
<rect x="414.90" y="305.21" width="3.8" height="3.8"/>
<rect x="415.02" y="305.36" width="3.8" height="3.8"/>
<rect x="415.15" y="305.57" width="3.8" height="3.8"/>
<rect x="415.27" y="305.59" width="3.8" height="3.8"/>
<rect x="415.39" y="305.74" width="3.8" height="3.8"/>
<rect x="415.51" y="305.89" width="3.8" height="3.8"/>
<rect x="415.63" y="306.03" width="3.8" height="3.8"/>
<rect x="415.75" y="306.18" width="3.8" height="3.8"/>
<rect x="415.87" y="306.19" width="3.8" height="3.8"/>
<rect x="415.99" y="306.50" width="3.8" height="3.8"/>
<rect x="416.11" y="306.57" width="3.8" height="3.8"/>
<rect x="416.23" y="306.61" width="3.8" height="3.8"/>
<rect x="416.35" y="306.90" width="3.8" height="3.8"/>
<rect x="416.47" y="306.90" width="3.8" height="3.8"/>
<rect x="416.59" y="307.19" width="3.8" height="3.8"/>
<rect x="416.71" y="307.15" width="3.8" height="3.8"/>
<rect x="416.83" y="307.13" width="3.8" height="3.8"/>
<rect x="416.95" y="307.24" width="3.8" height="3.8"/>
<rect x="417.06" y="307.43" width="3.8" height="3.8"/>
<rect x="417.18" y="307.56" width="3.8" height="3.8"/>
<rect x="417.30" y="307.81" width="3.8" height="3.8"/>
<rect x="417.42" y="307.56" width="3.8" height="3.8"/>
<rect x="417.53" y="307.82" width="3.8" height="3.8"/>
<rect x="417.65" y="307.87" width="3.8" height="3.8"/>
<rect x="417.77" y="308.21" width="3.8" height="3.8"/>
<rect x="417.88" y="308.25" width="3.8" height="3.8"/>
<rect x="418.00" y="308.55" width="3.8" height="3.8"/>
<rect x="418.11" y="308.37" width="3.8" height="3.8"/>
<rect x="418.23" y="308.46" width="3.8" height="3.8"/>
<rect x="418.34" y="308.90" width="3.8" height="3.8"/>
<rect x="418.46" y="308.80" width="3.8" height="3.8"/>
<rect x="418.57" y="308.84" width="3.8" height="3.8"/>
<rect x="418.69" y="309.23" width="3.8" height="3.8"/>
<rect x="418.80" y="309.35" width="3.8" height="3.8"/>
<rect x="418.92" y="309.37" width="3.8" height="3.8"/>
<rect x="419.03" y="309.44" width="3.8" height="3.8"/>
<rect x="419.14" y="309.64" width="3.8" height="3.8"/>
<rect x="419.26" y="309.59" width="3.8" height="3.8"/>
<rect x="419.37" y="309.68" width="3.8" height="3.8"/>
<rect x="419.48" y="309.74" width="3.8" height="3.8"/>
<rect x="419.59" y="309.85" width="3.8" height="3.8"/>
<rect x="419.70" y="309.87" width="3.8" height="3.8"/>
<rect x="419.82" y="310.02" width="3.8" height="3.8"/>
<rect x="419.93" y="310.42" width="3.8" height="3.8"/>
<rect x="420.04" y="310.44" width="3.8" height="3.8"/>
<rect x="420.15" y="310.61" width="3.8" height="3.8"/>
<rect x="420.26" y="310.73" width="3.8" height="3.8"/>
<rect x="420.37" y="310.73" width="3.8" height="3.8"/>
<rect x="420.48" y="310.83" width="3.8" height="3.8"/>
<rect x="420.59" y="310.88" width="3.8" height="3.8"/>
<rect x="420.70" y="311.23" width="3.8" height="3.8"/>
<rect x="420.81" y="311.30" width="3.8" height="3.8"/>
<rect x="420.92" y="311.28" width="3.8" height="3.8"/>
<rect x="421.03" y="311.41" width="3.8" height="3.8"/>
<rect x="421.14" y="311.53" width="3.8" height="3.8"/>
<rect x="421.25" y="311.62" width="3.8" height="3.8"/>
<rect x="421.36" y="311.81" width="3.8" height="3.8"/>
<rect x="421.47" y="311.75" width="3.8" height="3.8"/>
<rect x="421.57" y="311.90" width="3.8" height="3.8"/>
<rect x="421.68" y="312.06" width="3.8" height="3.8"/>
<rect x="421.79" y="312.24" width="3.8" height="3.8"/>
<rect x="421.90" y="312.29" width="3.8" height="3.8"/>
<rect x="422.00" y="312.61" width="3.8" height="3.8"/>
<rect x="422.11" y="312.61" width="3.8" height="3.8"/>
<rect x="422.22" y="312.60" width="3.8" height="3.8"/>
<rect x="422.33" y="312.89" width="3.8" height="3.8"/>
<rect x="422.43" y="312.80" width="3.8" height="3.8"/>
<rect x="422.54" y="312.92" width="3.8" height="3.8"/>
<rect x="422.64" y="313.20" width="3.8" height="3.8"/>
<rect x="422.75" y="313.18" width="3.8" height="3.8"/>
<rect x="422.86" y="313.30" width="3.8" height="3.8"/>
<rect x="422.96" y="313.32" width="3.8" height="3.8"/>
<rect x="423.07" y="313.41" width="3.8" height="3.8"/>
<rect x="423.17" y="313.59" width="3.8" height="3.8"/>
<rect x="423.28" y="313.80" width="3.8" height="3.8"/>
<rect x="423.38" y="313.82" width="3.8" height="3.8"/>
<rect x="423.48" y="313.92" width="3.8" height="3.8"/>
<rect x="423.59" y="313.94" width="3.8" height="3.8"/>
<rect x="423.69" y="314.10" width="3.8" height="3.8"/>
<rect x="423.80" y="314.32" width="3.8" height="3.8"/>
<rect x="423.90" y="314.50" width="3.8" height="3.8"/>
<rect x="424.00" y="314.50" width="3.8" height="3.8"/>
<rect x="424.11" y="314.65" width="3.8" height="3.8"/>
<rect x="424.21" y="314.80" width="3.8" height="3.8"/>
<rect x="424.31" y="314.79" width="3.8" height="3.8"/>
<rect x="424.41" y="314.94" width="3.8" height="3.8"/>
<rect x="424.52" y="314.98" width="3.8" height="3.8"/>
<rect x="424.62" y="315.04" width="3.8" height="3.8"/>
<rect x="424.72" y="315.26" width="3.8" height="3.8"/>
<rect x="424.82" y="315.09" width="3.8" height="3.8"/>
<rect x="424.92" y="315.46" width="3.8" height="3.8"/>
<rect x="425.02" y="315.40" width="3.8" height="3.8"/>
<rect x="425.13" y="315.62" width="3.8" height="3.8"/>
<rect x="425.23" y="315.62" width="3.8" height="3.8"/>
<rect x="425.33" y="316.08" width="3.8" height="3.8"/>
<rect x="425.43" y="316.04" width="3.8" height="3.8"/>
<rect x="425.53" y="316.03" width="3.8" height="3.8"/>
<rect x="425.63" y="316.10" width="3.8" height="3.8"/>
<rect x="425.73" y="316.05" width="3.8" height="3.8"/>
<rect x="425.83" y="316.34" width="3.8" height="3.8"/>
<rect x="425.93" y="316.34" width="3.8" height="3.8"/>
<rect x="426.03" y="316.50" width="3.8" height="3.8"/>
<rect x="426.13" y="316.59" width="3.8" height="3.8"/>
<rect x="426.22" y="316.74" width="3.8" height="3.8"/>
<rect x="426.32" y="316.92" width="3.8" height="3.8"/>
<rect x="426.42" y="316.95" width="3.8" height="3.8"/>
<rect x="426.52" y="317.24" width="3.8" height="3.8"/>
<rect x="426.62" y="317.09" width="3.8" height="3.8"/>
<rect x="426.72" y="317.44" width="3.8" height="3.8"/>
<rect x="426.81" y="317.40" width="3.8" height="3.8"/>
<rect x="426.91" y="317.31" width="3.8" height="3.8"/>
<rect x="427.01" y="317.66" width="3.8" height="3.8"/>
<rect x="427.11" y="317.74" width="3.8" height="3.8"/>
<rect x="427.20" y="317.71" width="3.8" height="3.8"/>
<rect x="427.30" y="317.95" width="3.8" height="3.8"/>
<rect x="427.40" y="318.15" width="3.8" height="3.8"/>
<rect x="427.49" y="318.13" width="3.8" height="3.8"/>
<rect x="427.59" y="318.19" width="3.8" height="3.8"/>
<rect x="427.69" y="318.28" width="3.8" height="3.8"/>
<rect x="427.78" y="318.56" width="3.8" height="3.8"/>
<rect x="427.88" y="318.37" width="3.8" height="3.8"/>
<rect x="427.98" y="318.48" width="3.8" height="3.8"/>
<rect x="428.07" y="318.77" width="3.8" height="3.8"/>
<rect x="428.17" y="318.85" width="3.8" height="3.8"/>
<rect x="428.26" y="319.03" width="3.8" height="3.8"/>
<rect x="428.36" y="318.92" width="3.8" height="3.8"/>
<rect x="428.45" y="319.27" width="3.8" height="3.8"/>
<rect x="428.55" y="319.21" width="3.8" height="3.8"/>
<rect x="428.64" y="319.44" width="3.8" height="3.8"/>
<rect x="428.73" y="319.57" width="3.8" height="3.8"/>
<rect x="428.83" y="319.51" width="3.8" height="3.8"/>
<rect x="428.92" y="319.54" width="3.8" height="3.8"/>
<rect x="429.02" y="319.80" width="3.8" height="3.8"/>
<rect x="429.11" y="319.97" width="3.8" height="3.8"/>
<rect x="429.20" y="319.91" width="3.8" height="3.8"/>
<rect x="429.30" y="320.10" width="3.8" height="3.8"/>
<rect x="429.39" y="320.16" width="3.8" height="3.8"/>
<rect x="429.48" y="320.13" width="3.8" height="3.8"/>
<rect x="429.58" y="320.27" width="3.8" height="3.8"/>
<rect x="429.67" y="320.56" width="3.8" height="3.8"/>
<rect x="429.76" y="320.37" width="3.8" height="3.8"/>
<rect x="429.85" y="320.70" width="3.8" height="3.8"/>
<rect x="429.95" y="320.71" width="3.8" height="3.8"/>
<rect x="430.04" y="320.98" width="3.8" height="3.8"/>
<rect x="430.13" y="321.01" width="3.8" height="3.8"/>
<rect x="430.22" y="321.30" width="3.8" height="3.8"/>
<rect x="430.31" y="321.00" width="3.8" height="3.8"/>
<rect x="430.41" y="321.14" width="3.8" height="3.8"/>
<rect x="430.50" y="321.54" width="3.8" height="3.8"/>
<rect x="430.59" y="321.67" width="3.8" height="3.8"/>
<rect x="430.68" y="321.78" width="3.8" height="3.8"/>
<rect x="430.77" y="321.56" width="3.8" height="3.8"/>
</g>
<g clip-path="url(#ax)">
<path d="M97.88,230.97 L98.40,230.99 L98.93,231.02 L99.45,231.04 L99.97,231.07 L100.50,231.09 L101.02,231.12 L101.54,231.14 L102.07,231.17 L102.59,231.20 L103.12,231.22 L103.64,231.25 L104.16,231.28 L104.69,231.30 L105.21,231.33 L105.73,231.36 L106.26,231.39 L106.78,231.42 L107.30,231.44 L107.83,231.47 L108.35,231.50 L108.87,231.53 L109.40,231.56 L109.92,231.59 L110.45,231.62 L110.97,231.65 L111.49,231.68 L112.02,231.72 L112.54,231.75 L113.06,231.78 L113.59,231.81 L114.11,231.84 L114.63,231.88 L115.16,231.91 L115.68,231.94 L116.20,231.98 L116.73,232.01 L117.25,232.04 L117.77,232.08 L118.30,232.11 L118.82,232.15 L119.35,232.19 L119.87,232.22 L120.39,232.26 L120.92,232.29 L121.44,232.33 L121.96,232.37 L122.49,232.41 L123.01,232.44 L123.53,232.48 L124.06,232.52 L124.58,232.56 L125.10,232.60 L125.63,232.64 L126.15,232.68 L126.67,232.72 L127.20,232.76 L127.72,232.80 L128.25,232.84 L128.77,232.89 L129.29,232.93 L129.82,232.97 L130.34,233.01 L130.86,233.06 L131.39,233.10 L131.91,233.15 L132.43,233.19 L132.96,233.24 L133.48,233.28 L134.00,233.33 L134.53,233.38 L135.05,233.42 L135.57,233.47 L136.10,233.52 L136.62,233.57 L137.15,233.61 L137.67,233.66 L138.19,233.71 L138.72,233.76 L139.24,233.81 L139.76,233.86 L140.29,233.91 L140.81,233.97 L141.33,234.02 L141.86,234.07 L142.38,234.12 L142.90,234.18 L143.43,234.23 L143.95,234.29 L144.47,234.34 L145.00,234.40 L145.52,234.45 L146.05,234.51 L146.57,234.57 L147.09,234.62 L147.62,234.68 L148.14,234.74 L148.66,234.80 L149.19,234.86 L149.71,234.92 L150.23,234.98 L150.76,235.04 L151.28,235.10 L151.80,235.16 L152.33,235.23 L152.85,235.29 L153.37,235.35 L153.90,235.42 L154.42,235.48 L154.95,235.55 L155.47,235.61 L155.99,235.68 L156.52,235.75 L157.04,235.81 L157.56,235.88 L158.09,235.95 L158.61,236.02 L159.13,236.09 L159.66,236.16 L160.18,236.23 L160.70,236.30 L161.23,236.37 L161.75,236.45 L162.27,236.52 L162.80,236.59 L163.32,236.67 L163.85,236.74 L164.37,236.82 L164.89,236.89 L165.42,236.97 L165.94,237.05 L166.46,237.12 L166.99,237.20 L167.51,237.28 L168.03,237.36 L168.56,237.44 L169.08,237.52 L169.60,237.60 L170.13,237.69 L170.65,237.77 L171.18,237.85 L171.70,237.94 L172.22,238.02 L172.75,238.10 L173.27,238.19 L173.79,238.28 L174.32,238.36 L174.84,238.45 L175.36,238.54 L175.89,238.63 L176.41,238.72 L176.93,238.81 L177.46,238.90 L177.98,238.99 L178.50,239.08 L179.03,239.17 L179.55,239.27 L180.08,239.36 L180.60,239.45 L181.12,239.55 L181.65,239.64 L182.17,239.74 L182.69,239.84 L183.22,239.93 L183.74,240.03 L184.26,240.13 L184.79,240.23 L185.31,240.33 L185.83,240.43 L186.36,240.53 L186.88,240.63 L187.40,240.73 L187.93,240.83 L188.45,240.94 L188.98,241.04 L189.50,241.14 L190.02,241.25 L190.55,241.35 L191.07,241.46 L191.59,241.57 L192.12,241.67 L192.64,241.78 L193.16,241.89 L193.69,241.99 L194.21,242.10 L194.73,242.21 L195.26,242.32 L195.78,242.43 L196.30,242.54 L196.83,242.65 L197.35,242.76 L197.88,242.88 L198.40,242.99 L198.92,243.10 L199.45,243.21 L199.97,243.33 L200.49,243.44 L201.02,243.55 L201.54,243.67 L202.06,243.78 L202.59,243.90 L203.11,244.01 L203.63,244.13 L204.16,244.24 L204.68,244.36 L205.20,244.48 L205.73,244.59 L206.25,244.71 L206.78,244.83 L207.30,244.94 L207.82,245.06 L208.35,245.18 L208.87,245.29 L209.39,245.41 L209.92,245.53 L210.44,245.65 L210.96,245.76 L211.49,245.88 L212.01,246.00 L212.53,246.12 L213.06,246.23 L213.58,246.35 L214.10,246.47 L214.63,246.58 L215.15,246.70 L215.68,246.82 L216.20,246.94 L216.72,247.05 L217.25,247.17 L217.77,247.28 L218.29,247.40 L218.82,247.51 L219.34,247.63 L219.86,247.74 L220.39,247.86 L220.91,247.97 L221.43,248.09 L221.96,248.20 L222.48,248.31 L223.00,248.42 L223.53,248.54 L224.05,248.65 L224.58,248.76 L225.10,248.87 L225.62,248.98 L226.15,249.08 L226.67,249.19 L227.19,249.30 L227.72,249.41 L228.24,249.51 L228.76,249.62 L229.29,249.72 L229.81,249.83 L230.33,249.93 L230.86,250.03 L231.38,250.13 L231.91,250.23 L232.43,250.33 L232.95,250.43 L233.48,250.53 L234.00,250.63 L234.52,250.72 L235.05,250.82 L235.57,250.91 L236.09,251.01 L236.62,251.10 L237.14,251.19 L237.66,251.28 L238.19,251.37 L238.71,251.46 L239.23,251.54 L239.76,251.63 L240.28,251.72 L240.81,251.80 L241.33,251.88 L241.85,251.97 L242.38,252.05 L242.90,252.13 L243.42,252.21 L243.95,252.28 L244.47,252.36 L244.99,252.44 L245.52,252.51 L246.04,252.59 L246.56,252.66 L247.09,252.73 L247.61,252.80 L248.13,252.87 L248.66,252.94 L249.18,253.01 L249.71,253.08 L250.23,253.14 L250.75,253.21 L251.28,253.27 L251.80,253.34 L252.32,253.40 L252.85,253.46 L253.37,253.52 L253.89,253.58 L254.42,253.64 L254.94,253.70 L255.46,253.76 L255.99,253.82 L256.51,253.87 L257.03,253.93 L257.56,253.98 L258.08,254.04 L258.61,254.09 L259.13,254.14 L259.65,254.20 L260.18,254.25 L260.70,254.30 L261.22,254.35 L261.75,254.40 L262.27,254.45 L262.79,254.50 L263.32,254.55 L263.84,254.60 L264.36,254.64 L264.89,254.69 L265.41,254.74 L265.93,254.79 L266.46,254.83 L266.98,254.88 L267.51,254.93 L268.03,254.97 L268.55,255.02 L269.08,255.06 L269.60,255.11 L270.12,255.15 L270.65,255.20 L271.17,255.24 L271.69,255.29 L272.22,255.33 L272.74,255.38 L273.26,255.42 L273.79,255.47 L274.31,255.51 L274.83,255.56 L275.36,255.60 L275.88,255.65 L276.41,255.69 L276.93,255.74 L277.45,255.78 L277.98,255.83 L278.50,255.87 L279.02,255.92 L279.55,255.96 L280.07,256.01 L280.59,256.06 L281.12,256.10 L281.64,256.15 L282.16,256.20 L282.69,256.24 L283.21,256.29 L283.73,256.34 L284.26,256.39 L284.78,256.44 L285.31,256.48 L285.83,256.53 L286.35,256.58 L286.88,256.63 L287.40,256.68 L287.92,256.73 L288.45,256.78 L288.97,256.84 L289.49,256.89 L290.02,256.94 L290.54,256.99 L291.06,257.05 L291.59,257.10 L292.11,257.15 L292.64,257.21 L293.16,257.26 L293.68,257.32 L294.21,257.37 L294.73,257.43 L295.25,257.49 L295.78,257.55 L296.30,257.60 L296.82,257.66 L297.35,257.72 L297.87,257.78 L298.39,257.84 L298.92,257.90 L299.44,257.97 L299.96,258.03 L300.49,258.09 L301.01,258.15 L301.54,258.22 L302.06,258.28 L302.58,258.35 L303.11,258.41 L303.63,258.48 L304.15,258.55 L304.68,258.62 L305.20,258.68 L305.72,258.75 L306.25,258.82 L306.77,258.89 L307.29,258.97 L307.82,259.04 L308.34,259.11 L308.86,259.18 L309.39,259.26 L309.91,259.33 L310.44,259.41 L310.96,259.48 L311.48,259.56 L312.01,259.64 L312.53,259.72 L313.05,259.80 L313.58,259.88 L314.10,259.96 L314.62,260.04 L315.15,260.12 L315.67,260.21 L316.19,260.29 L316.72,260.38 L317.24,260.46 L317.76,260.55 L318.29,260.64 L318.81,260.73 L319.34,260.82 L319.86,260.91 L320.38,261.00 L320.91,261.09 L321.43,261.18 L321.95,261.28 L322.48,261.37 L323.00,261.47 L323.52,261.57 L324.05,261.67 L324.57,261.76 L325.09,261.86 L325.62,261.97 L326.14,262.07 L326.66,262.17 L327.19,262.27 L327.71,262.38 L328.24,262.49 L328.76,262.59 L329.28,262.70 L329.81,262.81 L330.33,262.92 L330.85,263.03 L331.38,263.15 L331.90,263.26 L332.42,263.37 L332.95,263.49 L333.47,263.61 L333.99,263.73 L334.52,263.85 L335.04,263.97 L335.56,264.09 L336.09,264.21 L336.61,264.34 L337.14,264.46 L337.66,264.59 L338.18,264.72 L338.71,264.85 L339.23,264.98 L339.75,265.11 L340.28,265.24 L340.80,265.38 L341.32,265.51 L341.85,265.65 L342.37,265.79 L342.89,265.93 L343.42,266.07 L343.94,266.21 L344.46,266.36 L344.99,266.51 L345.51,266.65 L346.04,266.80 L346.56,266.95 L347.08,267.10 L347.61,267.26 L348.13,267.41 L348.65,267.57 L349.18,267.73 L349.70,267.89 L350.22,268.05 L350.75,268.21 L351.27,268.37 L351.79,268.54 L352.32,268.71 L352.84,268.88 L353.37,269.05 L353.89,269.22 L354.41,269.40 L354.94,269.57 L355.46,269.75 L355.98,269.93 L356.51,270.11 L357.03,270.30 L357.55,270.48 L358.08,270.67 L358.60,270.86 L359.12,271.05 L359.65,271.24 L360.17,271.44 L360.69,271.63 L361.22,271.83 L361.74,272.03 L362.27,272.23 L362.79,272.44 L363.31,272.65 L363.84,272.85 L364.36,273.07 L364.88,273.28 L365.41,273.49 L365.93,273.71 L366.45,273.93 L366.98,274.15 L367.50,274.38 L368.02,274.60 L368.55,274.83 L369.07,275.06 L369.59,275.29 L370.12,275.53 L370.64,275.77 L371.17,276.01 L371.69,276.25 L372.21,276.49 L372.74,276.74 L373.26,276.99 L373.78,277.24 L374.31,277.50 L374.83,277.76 L375.35,278.02 L375.88,278.28 L376.40,278.54 L376.92,278.81 L377.45,279.08 L377.97,279.35 L378.49,279.63 L379.02,279.91 L379.54,280.19 L380.07,280.47 L380.59,280.76 L381.11,281.05 L381.64,281.34 L382.16,281.64 L382.68,281.94 L383.21,282.24 L383.73,282.55 L384.25,282.85 L384.78,283.16 L385.30,283.48 L385.82,283.80 L386.35,284.12 L386.87,284.44 L387.39,284.77 L387.92,285.10 L388.44,285.43 L388.97,285.77 L389.49,286.11 L390.01,286.45 L390.54,286.80 L391.06,287.15 L391.58,287.50 L392.11,287.86 L392.63,288.22 L393.15,288.58 L393.68,288.95 L394.20,289.32 L394.72,289.70 L395.25,290.08 L395.77,290.46 L396.29,290.85 L396.82,291.24 L397.34,291.63 L397.87,292.03 L398.39,292.44 L398.91,292.84 L399.44,293.25 L399.96,293.67 L400.48,294.09 L401.01,294.51 L401.53,294.94 L402.05,295.37 L402.58,295.81 L403.10,296.25 L403.62,296.69 L404.15,297.14 L404.67,297.59 L405.19,298.05 L405.72,298.51 L406.24,298.98 L406.77,299.45 L407.29,299.93 L407.81,300.41 L408.34,300.90 L408.86,301.39 L409.38,301.89 L409.91,302.39 L410.43,302.89 L410.95,303.41 L411.48,303.92 L412.00,304.44 L412.52,304.97 L413.05,305.50 L413.57,306.04 L414.10,306.58 L414.62,307.13 L415.14,307.68 L415.67,308.24 L416.19,308.81 L416.71,309.38 L417.24,309.96 L417.76,310.54 L418.28,311.12 L418.81,311.72 L419.33,312.32 L419.85,312.92 L420.38,313.54 L420.90,314.15 L421.42,314.78 L421.95,315.41 L422.47,316.04 L423.00,316.69 L423.52,317.34 L424.04,317.99 L424.57,318.65 L425.09,319.32 L425.61,320.00 L426.14,320.68 L426.66,321.37 L427.18,322.07 L427.71,322.77 L428.23,323.48 L428.75,324.20 L429.28,324.92 L429.80,325.65 L430.32,326.39 L430.85,327.14 L431.37,327.89 L431.90,328.65 L432.42,329.42 L432.94,330.20 L433.47,330.98 L433.99,331.77 L434.51,332.57" stroke="#00ff00" stroke-width="2.5" fill="none"/>
<path d="M97.88,251.90 L98.40,251.90 L98.93,251.90 L99.45,251.90 L99.97,251.91 L100.50,251.91 L101.02,251.91 L101.54,251.91 L102.07,251.91 L102.59,251.91 L103.12,251.91 L103.64,251.92 L104.16,251.92 L104.69,251.92 L105.21,251.92 L105.73,251.92 L106.26,251.92 L106.78,251.92 L107.30,251.93 L107.83,251.93 L108.35,251.93 L108.87,251.93 L109.40,251.93 L109.92,251.93 L110.45,251.94 L110.97,251.94 L111.49,251.94 L112.02,251.94 L112.54,251.94 L113.06,251.94 L113.59,251.95 L114.11,251.95 L114.63,251.95 L115.16,251.95 L115.68,251.95 L116.20,251.96 L116.73,251.96 L117.25,251.96 L117.77,251.96 L118.30,251.96 L118.82,251.97 L119.35,251.97 L119.87,251.97 L120.39,251.97 L120.92,251.97 L121.44,251.98 L121.96,251.98 L122.49,251.98 L123.01,251.98 L123.53,251.98 L124.06,251.99 L124.58,251.99 L125.10,251.99 L125.63,251.99 L126.15,252.00 L126.67,252.00 L127.20,252.00 L127.72,252.00 L128.25,252.00 L128.77,252.01 L129.29,252.01 L129.82,252.01 L130.34,252.01 L130.86,252.02 L131.39,252.02 L131.91,252.02 L132.43,252.02 L132.96,252.03 L133.48,252.03 L134.00,252.03 L134.53,252.04 L135.05,252.04 L135.57,252.04 L136.10,252.04 L136.62,252.05 L137.15,252.05 L137.67,252.05 L138.19,252.05 L138.72,252.06 L139.24,252.06 L139.76,252.06 L140.29,252.07 L140.81,252.07 L141.33,252.07 L141.86,252.08 L142.38,252.08 L142.90,252.08 L143.43,252.08 L143.95,252.09 L144.47,252.09 L145.00,252.09 L145.52,252.10 L146.05,252.10 L146.57,252.10 L147.09,252.11 L147.62,252.11 L148.14,252.11 L148.66,252.12 L149.19,252.12 L149.71,252.13 L150.23,252.13 L150.76,252.13 L151.28,252.14 L151.80,252.14 L152.33,252.14 L152.85,252.15 L153.37,252.15 L153.90,252.16 L154.42,252.16 L154.95,252.16 L155.47,252.17 L155.99,252.17 L156.52,252.18 L157.04,252.18 L157.56,252.18 L158.09,252.19 L158.61,252.19 L159.13,252.20 L159.66,252.20 L160.18,252.20 L160.70,252.21 L161.23,252.21 L161.75,252.22 L162.27,252.22 L162.80,252.23 L163.32,252.23 L163.85,252.24 L164.37,252.24 L164.89,252.25 L165.42,252.25 L165.94,252.26 L166.46,252.26 L166.99,252.27 L167.51,252.27 L168.03,252.28 L168.56,252.28 L169.08,252.29 L169.60,252.29 L170.13,252.30 L170.65,252.30 L171.18,252.31 L171.70,252.31 L172.22,252.32 L172.75,252.32 L173.27,252.33 L173.79,252.33 L174.32,252.34 L174.84,252.35 L175.36,252.35 L175.89,252.36 L176.41,252.36 L176.93,252.37 L177.46,252.38 L177.98,252.38 L178.50,252.39 L179.03,252.39 L179.55,252.40 L180.08,252.41 L180.60,252.41 L181.12,252.42 L181.65,252.43 L182.17,252.43 L182.69,252.44 L183.22,252.45 L183.74,252.45 L184.26,252.46 L184.79,252.47 L185.31,252.47 L185.83,252.48 L186.36,252.49 L186.88,252.50 L187.40,252.50 L187.93,252.51 L188.45,252.52 L188.98,252.52 L189.50,252.53 L190.02,252.54 L190.55,252.55 L191.07,252.56 L191.59,252.56 L192.12,252.57 L192.64,252.58 L193.16,252.59 L193.69,252.60 L194.21,252.60 L194.73,252.61 L195.26,252.62 L195.78,252.63 L196.30,252.64 L196.83,252.65 L197.35,252.66 L197.88,252.66 L198.40,252.67 L198.92,252.68 L199.45,252.69 L199.97,252.70 L200.49,252.71 L201.02,252.72 L201.54,252.73 L202.06,252.74 L202.59,252.75 L203.11,252.76 L203.63,252.77 L204.16,252.78 L204.68,252.79 L205.20,252.80 L205.73,252.81 L206.25,252.82 L206.78,252.83 L207.30,252.84 L207.82,252.85 L208.35,252.86 L208.87,252.87 L209.39,252.89 L209.92,252.90 L210.44,252.91 L210.96,252.92 L211.49,252.93 L212.01,252.94 L212.53,252.95 L213.06,252.97 L213.58,252.98 L214.10,252.99 L214.63,253.00 L215.15,253.01 L215.68,253.03 L216.20,253.04 L216.72,253.05 L217.25,253.07 L217.77,253.08 L218.29,253.09 L218.82,253.10 L219.34,253.12 L219.86,253.13 L220.39,253.15 L220.91,253.16 L221.43,253.17 L221.96,253.19 L222.48,253.20 L223.00,253.22 L223.53,253.23 L224.05,253.25 L224.58,253.26 L225.10,253.27 L225.62,253.29 L226.15,253.31 L226.67,253.32 L227.19,253.34 L227.72,253.35 L228.24,253.37 L228.76,253.38 L229.29,253.40 L229.81,253.42 L230.33,253.43 L230.86,253.45 L231.38,253.47 L231.91,253.48 L232.43,253.50 L232.95,253.52 L233.48,253.54 L234.00,253.55 L234.52,253.57 L235.05,253.59 L235.57,253.61 L236.09,253.63 L236.62,253.64 L237.14,253.66 L237.66,253.68 L238.19,253.70 L238.71,253.72 L239.23,253.74 L239.76,253.76 L240.28,253.78 L240.81,253.80 L241.33,253.82 L241.85,253.84 L242.38,253.86 L242.90,253.88 L243.42,253.90 L243.95,253.93 L244.47,253.95 L244.99,253.97 L245.52,253.99 L246.04,254.01 L246.56,254.04 L247.09,254.06 L247.61,254.08 L248.13,254.10 L248.66,254.13 L249.18,254.15 L249.71,254.18 L250.23,254.20 L250.75,254.22 L251.28,254.25 L251.80,254.27 L252.32,254.30 L252.85,254.32 L253.37,254.35 L253.89,254.37 L254.42,254.40 L254.94,254.43 L255.46,254.45 L255.99,254.48 L256.51,254.51 L257.03,254.54 L257.56,254.56 L258.08,254.59 L258.61,254.62 L259.13,254.65 L259.65,254.68 L260.18,254.71 L260.70,254.74 L261.22,254.76 L261.75,254.79 L262.27,254.83 L262.79,254.86 L263.32,254.89 L263.84,254.92 L264.36,254.95 L264.89,254.98 L265.41,255.01 L265.93,255.05 L266.46,255.08 L266.98,255.11 L267.51,255.15 L268.03,255.18 L268.55,255.21 L269.08,255.25 L269.60,255.28 L270.12,255.32 L270.65,255.35 L271.17,255.39 L271.69,255.43 L272.22,255.46 L272.74,255.50 L273.26,255.54 L273.79,255.57 L274.31,255.61 L274.83,255.65 L275.36,255.69 L275.88,255.73 L276.41,255.77 L276.93,255.81 L277.45,255.85 L277.98,255.89 L278.50,255.93 L279.02,255.97 L279.55,256.01 L280.07,256.06 L280.59,256.10 L281.12,256.14 L281.64,256.19 L282.16,256.23 L282.69,256.28 L283.21,256.32 L283.73,256.37 L284.26,256.41 L284.78,256.46 L285.31,256.51 L285.83,256.55 L286.35,256.60 L286.88,256.65 L287.40,256.70 L287.92,256.75 L288.45,256.80 L288.97,256.85 L289.49,256.90 L290.02,256.95 L290.54,257.00 L291.06,257.05 L291.59,257.11 L292.11,257.16 L292.64,257.21 L293.16,257.27 L293.68,257.32 L294.21,257.38 L294.73,257.44 L295.25,257.49 L295.78,257.55 L296.30,257.61 L296.82,257.67 L297.35,257.73 L297.87,257.78 L298.39,257.84 L298.92,257.91 L299.44,257.97 L299.96,258.03 L300.49,258.09 L301.01,258.16 L301.54,258.22 L302.06,258.28 L302.58,258.35 L303.11,258.41 L303.63,258.48 L304.15,258.55 L304.68,258.62 L305.20,258.68 L305.72,258.75 L306.25,258.82 L306.77,258.89 L307.29,258.97 L307.82,259.04 L308.34,259.11 L308.86,259.18 L309.39,259.26 L309.91,259.33 L310.44,259.41 L310.96,259.48 L311.48,259.56 L312.01,259.64 L312.53,259.72 L313.05,259.80 L313.58,259.88 L314.10,259.96 L314.62,260.04 L315.15,260.12 L315.67,260.21 L316.19,260.29 L316.72,260.38 L317.24,260.46 L317.76,260.55 L318.29,260.64 L318.81,260.73 L319.34,260.82 L319.86,260.91 L320.38,261.00 L320.91,261.09 L321.43,261.18 L321.95,261.28 L322.48,261.37 L323.00,261.47 L323.52,261.57 L324.05,261.67 L324.57,261.76 L325.09,261.86 L325.62,261.97 L326.14,262.07 L326.66,262.17 L327.19,262.27 L327.71,262.38 L328.24,262.49 L328.76,262.59 L329.28,262.70 L329.81,262.81 L330.33,262.92 L330.85,263.03 L331.38,263.15 L331.90,263.26 L332.42,263.37 L332.95,263.49 L333.47,263.61 L333.99,263.73 L334.52,263.85 L335.04,263.97 L335.56,264.09 L336.09,264.21 L336.61,264.34 L337.14,264.46 L337.66,264.59 L338.18,264.72 L338.71,264.85 L339.23,264.98 L339.75,265.11 L340.28,265.24 L340.80,265.38 L341.32,265.51 L341.85,265.65 L342.37,265.79 L342.89,265.93 L343.42,266.07 L343.94,266.21 L344.46,266.36 L344.99,266.51 L345.51,266.65 L346.04,266.80 L346.56,266.95 L347.08,267.10 L347.61,267.26 L348.13,267.41 L348.65,267.57 L349.18,267.73 L349.70,267.89 L350.22,268.05 L350.75,268.21 L351.27,268.37 L351.79,268.54 L352.32,268.71 L352.84,268.88 L353.37,269.05 L353.89,269.22 L354.41,269.40 L354.94,269.57 L355.46,269.75 L355.98,269.93 L356.51,270.11 L357.03,270.30 L357.55,270.48 L358.08,270.67 L358.60,270.86 L359.12,271.05 L359.65,271.24 L360.17,271.44 L360.69,271.63 L361.22,271.83 L361.74,272.03 L362.27,272.23 L362.79,272.44 L363.31,272.65 L363.84,272.85 L364.36,273.07 L364.88,273.28 L365.41,273.49 L365.93,273.71 L366.45,273.93 L366.98,274.15 L367.50,274.38 L368.02,274.60 L368.55,274.83 L369.07,275.06 L369.59,275.29 L370.12,275.53 L370.64,275.77 L371.17,276.01 L371.69,276.25 L372.21,276.49 L372.74,276.74 L373.26,276.99 L373.78,277.24 L374.31,277.50 L374.83,277.76 L375.35,278.02 L375.88,278.28 L376.40,278.54 L376.92,278.81 L377.45,279.08 L377.97,279.35 L378.49,279.63 L379.02,279.91 L379.54,280.19 L380.07,280.47 L380.59,280.76 L381.11,281.05 L381.64,281.34 L382.16,281.64 L382.68,281.94 L383.21,282.24 L383.73,282.55 L384.25,282.85 L384.78,283.16 L385.30,283.48 L385.82,283.80 L386.35,284.12 L386.87,284.44 L387.39,284.77 L387.92,285.10 L388.44,285.43 L388.97,285.77 L389.49,286.11 L390.01,286.45 L390.54,286.80 L391.06,287.15 L391.58,287.50 L392.11,287.86 L392.63,288.22 L393.15,288.58 L393.68,288.95 L394.20,289.32 L394.72,289.70 L395.25,290.08 L395.77,290.46 L396.29,290.85 L396.82,291.24 L397.34,291.63 L397.87,292.03 L398.39,292.44 L398.91,292.84 L399.44,293.25 L399.96,293.67 L400.48,294.09 L401.01,294.51 L401.53,294.94 L402.05,295.37 L402.58,295.81 L403.10,296.25 L403.62,296.69 L404.15,297.14 L404.67,297.59 L405.19,298.05 L405.72,298.51 L406.24,298.98 L406.77,299.45 L407.29,299.93 L407.81,300.41 L408.34,300.90 L408.86,301.39 L409.38,301.89 L409.91,302.39 L410.43,302.89 L410.95,303.41 L411.48,303.92 L412.00,304.44 L412.52,304.97 L413.05,305.50 L413.57,306.04 L414.10,306.58 L414.62,307.13 L415.14,307.68 L415.67,308.24 L416.19,308.81 L416.71,309.38 L417.24,309.96 L417.76,310.54 L418.28,311.12 L418.81,311.72 L419.33,312.32 L419.85,312.92 L420.38,313.54 L420.90,314.15 L421.42,314.78 L421.95,315.41 L422.47,316.04 L423.00,316.69 L423.52,317.34 L424.04,317.99 L424.57,318.65 L425.09,319.32 L425.61,320.00 L426.14,320.68 L426.66,321.37 L427.18,322.07 L427.71,322.77 L428.23,323.48 L428.75,324.20 L429.28,324.92 L429.80,325.65 L430.32,326.39 L430.85,327.14 L431.37,327.89 L431.90,328.65 L432.42,329.42 L432.94,330.20 L433.47,330.98 L433.99,331.77 L434.51,332.57 L435.04,333.38 L435.41,333.96" stroke="#000" stroke-width="2.3" fill="none"/>
<path d="M97.88,233.50 L98.14,233.52 L98.41,233.53 L98.67,233.55 L98.93,233.56 L99.19,233.58 L99.45,233.59 L99.72,233.61 L99.98,233.62 L100.24,233.64 L100.50,233.66 L100.77,233.67 L101.03,233.69 L101.29,233.70 L101.55,233.72 L101.82,233.73 L102.08,233.75 L102.34,233.77 L102.60,233.78 L102.87,233.80 L103.13,233.81 L103.39,233.83 L103.65,233.85 L103.92,233.86 L104.18,233.88 L104.44,233.90 L104.70,233.91 L104.97,233.93 L105.23,233.95 L105.49,233.97 L105.75,233.98 L106.02,234.00 L106.28,234.02 L106.54,234.03 L106.80,234.05 L107.06,234.07 L107.33,234.09 L107.59,234.11 L107.85,234.12 L108.11,234.14 L108.38,234.16 L108.64,234.18 L108.90,234.20 L109.16,234.21 L109.43,234.23 L109.69,234.25 L109.95,234.27 L110.21,234.29 L110.48,234.31 L110.74,234.33 L111.00,234.34 L111.26,234.36 L111.53,234.38 L111.79,234.40 L112.05,234.42 L112.31,234.44 L112.58,234.46 L112.84,234.48 L113.10,234.50 L113.36,234.52 L113.63,234.54 L113.89,234.56 L114.15,234.58 L114.41,234.60 L114.67,234.62 L114.94,234.64 L115.20,234.66 L115.46,234.68 L115.72,234.70 L115.99,234.72 L116.25,234.74 L116.51,234.76 L116.77,234.79 L117.04,234.81 L117.30,234.83 L117.56,234.85 L117.82,234.87 L118.09,234.89 L118.35,234.91 L118.61,234.94 L118.87,234.96 L119.14,234.98 L119.40,235.00 L119.66,235.03 L119.92,235.05 L120.19,235.07 L120.45,235.09 L120.71,235.12 L120.97,235.14 L121.24,235.16 L121.50,235.18 L121.76,235.21 L122.02,235.23 L122.29,235.25 L122.55,235.28 L122.81,235.30 L123.07,235.33 L123.33,235.35 L123.60,235.37 L123.86,235.40 L124.12,235.42 L124.38,235.45 L124.65,235.47 L124.91,235.50 L125.17,235.52 L125.43,235.55 L125.70,235.57 L125.96,235.60 L126.22,235.62 L126.48,235.65 L126.75,235.67 L127.01,235.70 L127.27,235.72 L127.53,235.75 L127.80,235.78 L128.06,235.80 L128.32,235.83 L128.58,235.85 L128.85,235.88 L129.11,235.91 L129.37,235.94 L129.63,235.96 L129.90,235.99 L130.16,236.02 L130.42,236.04 L130.68,236.07 L130.94,236.10 L131.21,236.13 L131.47,236.15 L131.73,236.18 L131.99,236.21 L132.26,236.24 L132.52,236.27 L132.78,236.30 L133.04,236.33 L133.31,236.35 L133.57,236.38 L133.83,236.41 L134.09,236.44 L134.36,236.47 L134.62,236.50 L134.88,236.53 L135.14,236.56 L135.41,236.59 L135.67,236.62 L135.93,236.65 L136.19,236.68 L136.46,236.71 L136.72,236.74 L136.98,236.78 L137.24,236.81 L137.51,236.84 L137.77,236.87 L138.03,236.90 L138.29,236.93 L138.56,236.96 L138.82,237.00 L139.08,237.03 L139.34,237.06 L139.60,237.09 L139.87,237.13 L140.13,237.16 L140.39,237.19 L140.65,237.23 L140.92,237.26 L141.18,237.29 L141.44,237.33 L141.70,237.36 L141.97,237.40 L142.23,237.43 L142.49,237.46 L142.75,237.50 L143.02,237.53 L143.28,237.57 L143.54,237.60 L143.80,237.64 L144.07,237.67 L144.33,237.71 L144.59,237.75 L144.85,237.78 L145.12,237.82 L145.38,237.85 L145.64,237.89 L145.90,237.93 L146.17,237.97 L146.43,238.00 L146.69,238.04 L146.95,238.08 L147.21,238.11 L147.48,238.15 L147.74,238.19 L148.00,238.23 L148.26,238.27 L148.53,238.31 L148.79,238.35 L149.05,238.38 L149.31,238.42 L149.58,238.46 L149.84,238.50 L150.10,238.54 L150.36,238.58 L150.63,238.62 L150.89,238.66 L151.15,238.70 L151.41,238.74 L151.68,238.79 L151.94,238.83 L152.20,238.87 L152.46,238.91 L152.73,238.95 L152.99,238.99 L153.25,239.04 L153.51,239.08 L153.78,239.12 L154.04,239.16 L154.30,239.21 L154.56,239.25 L154.83,239.29 L155.09,239.34 L155.35,239.38 L155.61,239.43 L155.87,239.47 L156.14,239.52 L156.40,239.56 L156.66,239.61 L156.92,239.65 L157.19,239.70 L157.45,239.74 L157.71,239.79 L157.97,239.83 L158.24,239.88 L158.50,239.93 L158.76,239.97 L159.02,240.02 L159.29,240.07 L159.55,240.12 L159.81,240.16 L160.07,240.21 L160.34,240.26 L160.60,240.31 L160.86,240.36 L161.12,240.41 L161.39,240.46 L161.65,240.51 L161.91,240.56 L162.17,240.61 L162.44,240.66 L162.70,240.71 L162.96,240.76 L163.22,240.81 L163.48,240.86 L163.75,240.91 L164.01,240.96 L164.27,241.02 L164.53,241.07 L164.80,241.12 L165.06,241.17 L165.32,241.23 L165.58,241.28 L165.85,241.34 L166.11,241.39 L166.37,241.44 L166.63,241.50 L166.90,241.55 L167.16,241.61 L167.42,241.66 L167.68,241.72 L167.95,241.77 L168.21,241.83 L168.47,241.89 L168.73,241.94 L169.00,242.00 L169.26,242.06 L169.52,242.12 L169.78,242.17 L170.05,242.23 L170.31,242.29 L170.57,242.35 L170.83,242.41 L171.09,242.47 L171.36,242.53 L171.62,242.59 L171.88,242.65 L172.14,242.71 L172.41,242.77 L172.67,242.83 L172.93,242.89 L173.19,242.95 L173.46,243.02 L173.72,243.08 L173.98,243.14 L174.24,243.20 L174.51,243.27 L174.77,243.33 L175.03,243.39 L175.29,243.46 L175.56,243.52 L175.82,243.59 L176.08,243.65 L176.34,243.72 L176.61,243.79 L176.87,243.85 L177.13,243.92 L177.39,243.99 L177.66,244.05 L177.92,244.12 L178.18,244.19 L178.44,244.26 L178.71,244.32 L178.97,244.39 L179.23,244.46 L179.49,244.53 L179.75,244.60 L180.02,244.67 L180.28,244.74 L180.54,244.81 L180.80,244.89 L181.07,244.96 L181.33,245.03 L181.59,245.10 L181.85,245.18 L182.12,245.25 L182.38,245.32 L182.64,245.40 L182.90,245.47 L183.17,245.54 L183.43,245.62 L183.69,245.70 L183.95,245.77 L184.22,245.85 L184.48,245.92 L184.74,246.00 L185.00,246.08 L185.27,246.16 L185.53,246.23 L185.79,246.31 L186.05,246.39 L186.32,246.47 L186.58,246.55 L186.84,246.63 L187.10,246.71 L187.36,246.79 L187.63,246.87 L187.89,246.95 L188.15,247.04 L188.41,247.12 L188.68,247.20 L188.94,247.29 L189.20,247.37 L189.46,247.45 L189.73,247.54 L189.99,247.62 L190.25,247.71 L190.51,247.79 L190.78,247.88 L191.04,247.97 L191.30,248.05 L191.56,248.14 L191.83,248.23 L192.09,248.32 L192.35,248.41 L192.61,248.50 L192.88,248.59 L193.14,248.68 L193.40,248.77 L193.66,248.86 L193.93,248.95 L194.19,249.04 L194.45,249.13 L194.71,249.23 L194.98,249.32 L195.24,249.42 L195.50,249.51 L195.76,249.60 L196.02,249.70 L196.29,249.80 L196.55,249.89 L196.81,249.99 L197.07,250.09 L197.34,250.18 L197.60,250.28 L197.86,250.38 L198.12,250.48 L198.39,250.58 L198.65,250.68 L198.91,250.78 L199.17,250.88 L199.44,250.98 L199.70,251.09 L199.96,251.19 L200.22,251.29 L200.49,251.40 L200.75,251.50 L201.01,251.60 L201.27,251.71 L201.54,251.82 L201.80,251.92 L202.06,252.03 L202.32,252.14 L202.59,252.24 L202.85,252.35 L203.11,252.46 L203.37,252.57 L203.63,252.68 L203.90,252.79 L204.16,252.90 L204.42,253.02 L204.68,253.13 L204.95,253.24 L205.21,253.35 L205.47,253.47 L205.73,253.58 L206.00,253.70 L206.26,253.81 L206.52,253.93 L206.78,254.05 L207.05,254.17 L207.31,254.28 L207.57,254.40 L207.83,254.52 L208.10,254.64 L208.36,254.76 L208.62,254.88 L208.88,255.01 L209.15,255.13 L209.41,255.25 L209.67,255.37 L209.93,255.50 L210.20,255.62 L210.46,255.75 L210.72,255.87 L210.98,256.00 L211.24,256.13 L211.51,256.26 L211.77,256.39 L212.03,256.51 L212.29,256.64 L212.56,256.77 L212.82,256.91 L213.08,257.04 L213.34,257.17 L213.61,257.30 L213.87,257.44 L214.13,257.57 L214.39,257.71 L214.66,257.84 L214.92,257.98 L215.18,258.12 L215.44,258.25 L215.71,258.39 L215.97,258.53 L216.23,258.67 L216.49,258.81 L216.76,258.95 L217.02,259.10 L217.28,259.24 L217.54,259.38 L217.81,259.53 L218.07,259.67 L218.33,259.82 L218.59,259.96 L218.86,260.11 L219.12,260.26 L219.38,260.41 L219.64,260.56 L219.90,260.71 L220.17,260.86 L220.43,261.01 L220.69,261.16 L220.95,261.32 L221.22,261.47 L221.48,261.62 L221.74,261.78 L222.00,261.94 L222.27,262.09 L222.53,262.25 L222.79,262.41 L223.05,262.57 L223.32,262.73 L223.58,262.89 L223.84,263.05 L224.10,263.21 L224.37,263.38 L224.63,263.54 L224.89,263.71 L225.15,263.87 L225.42,264.04 L225.68,264.21 L225.94,264.37 L226.20,264.54 L226.47,264.71 L226.73,264.88 L226.99,265.06 L227.25,265.23 L227.51,265.40 L227.78,265.58 L228.04,265.75 L228.30,265.93 L228.56,266.10 L228.83,266.28 L229.09,266.46 L229.35,266.64 L229.61,266.82 L229.88,267.00 L230.14,267.19 L230.40,267.37 L230.66,267.55 L230.93,267.74 L231.19,267.92 L231.45,268.11 L231.71,268.30 L231.98,268.49 L232.24,268.68 L232.50,268.87 L232.76,269.06 L233.03,269.25 L233.29,269.45 L233.55,269.64 L233.81,269.84 L234.08,270.03 L234.34,270.23 L234.60,270.43 L234.86,270.63 L235.13,270.83 L235.39,271.03 L235.65,271.23 L235.91,271.44 L236.17,271.64 L236.44,271.85 L236.70,272.05 L236.96,272.26 L237.22,272.47 L237.49,272.68 L237.75,272.89 L238.01,273.10 L238.27,273.31 L238.54,273.53 L238.80,273.74 L239.06,273.96 L239.32,274.18 L239.59,274.39 L239.85,274.61 L240.11,274.83 L240.37,275.05 L240.64,275.28 L240.90,275.50 L241.16,275.73 L241.42,275.95 L241.69,276.18 L241.95,276.41 L242.21,276.64 L242.47,276.87 L242.74,277.10 L243.00,277.33 L243.26,277.57 L243.52,277.80 L243.78,278.04 L244.05,278.27 L244.31,278.51 L244.57,278.75 L244.83,278.99 L245.10,279.24 L245.36,279.48 L245.62,279.72 L245.88,279.97 L246.15,280.22 L246.41,280.47 L246.67,280.72 L246.93,280.97 L247.20,281.22 L247.46,281.47 L247.72,281.73 L247.98,281.98 L248.25,282.24 L248.51,282.50 L248.77,282.76 L249.03,283.02 L249.30,283.28 L249.56,283.55 L249.82,283.81 L250.08,284.08 L250.35,284.34 L250.61,284.61 L250.87,284.88 L251.13,285.16 L251.39,285.43 L251.66,285.70 L251.92,285.98 L252.18,286.26 L252.44,286.53 L252.71,286.81 L252.97,287.10 L253.23,287.38 L253.49,287.66 L253.76,287.95 L254.02,288.24 L254.28,288.52 L254.54,288.81 L254.81,289.11 L255.07,289.40 L255.33,289.69 L255.59,289.99 L255.86,290.29 L256.12,290.58 L256.38,290.89 L256.64,291.19 L256.91,291.49 L257.17,291.79 L257.43,292.10 L257.69,292.41 L257.96,292.72 L258.22,293.03 L258.48,293.34 L258.74,293.66 L259.01,293.97 L259.27,294.29 L259.53,294.61 L259.79,294.93 L260.05,295.25 L260.32,295.57 L260.58,295.90 L260.84,296.23 L261.10,296.55 L261.37,296.88 L261.63,297.22 L261.89,297.55 L262.15,297.88 L262.42,298.22 L262.68,298.56 L262.94,298.90 L263.20,299.24 L263.47,299.58 L263.73,299.93 L263.99,300.28 L264.25,300.63 L264.52,300.98 L264.78,301.33 L265.04,301.68 L265.30,302.04 L265.57,302.40 L265.83,302.75 L266.09,303.12 L266.35,303.48 L266.62,303.84 L266.88,304.21 L267.14,304.58 L267.40,304.95 L267.66,305.32 L267.93,305.69 L268.19,306.07 L268.45,306.45 L268.71,306.83 L268.98,307.21 L269.24,307.59 L269.50,307.98 L269.76,308.36 L270.03,308.75 L270.29,309.14 L270.55,309.54 L270.81,309.93 L271.08,310.33 L271.34,310.73 L271.60,311.13 L271.86,311.53 L272.13,311.94 L272.39,312.34 L272.65,312.75 L272.91,313.16 L273.18,313.58 L273.44,313.99 L273.70,314.41 L273.96,314.83 L274.23,315.25 L274.49,315.67 L274.75,316.10 L275.01,316.53 L275.28,316.96 L275.54,317.39 L275.80,317.82 L276.06,318.26 L276.32,318.70 L276.59,319.14 L276.85,319.58 L277.11,320.03 L277.37,320.48 L277.64,320.93 L277.90,321.38 L278.16,321.83 L278.42,322.29 L278.69,322.75 L278.95,323.21 L279.21,323.67 L279.47,324.14 L279.74,324.61 L280.00,325.08 L280.26,325.55 L280.52,326.02 L280.79,326.50 L281.05,326.98 L281.31,327.46 L281.57,327.95 L281.84,328.43 L282.10,328.92 L282.36,329.42 L282.62,329.91 L282.89,330.41 L283.15,330.91 L283.41,331.41 L283.67,331.91 L283.93,332.42 L284.20,332.93 L284.46,333.44 L284.72,333.96 L284.98,334.47 L285.25,334.99 L285.51,335.51 L285.77,336.04 L286.03,336.57 L286.30,337.10 L286.56,337.63 L286.82,338.17 L287.08,338.70 L287.35,339.24 L287.61,339.79 L287.87,340.33 L288.13,340.88 L288.40,341.44 L288.66,341.99 L288.92,342.55 L289.18,343.11 L289.45,343.67 L289.71,344.24 L289.97,344.80 L290.23,345.38 L290.50,345.95 L290.76,346.53 L291.02,347.11 L291.28,347.69 L291.54,348.28 L291.81,348.86 L292.07,349.46 L292.33,350.05 L292.59,350.65 L292.86,351.25 L293.12,351.85 L293.38,352.46 L293.64,353.07 L293.91,353.68 L294.17,354.30 L294.43,354.92 L294.69,355.54 L294.96,356.16 L295.22,356.79 L295.48,357.42 L295.74,358.06 L296.01,358.69 L296.27,359.33 L296.53,359.98 L296.79,360.63 L297.06,361.28 L297.32,361.93 L297.58,362.59 L297.84,363.25 L298.11,363.91 L298.37,364.58 L298.63,365.25 L298.89,365.92 L299.16,366.60 L299.42,367.28 L299.68,367.96 L299.94,368.65 L300.20,369.34 L300.47,370.03 L300.73,370.73 L300.99,371.43 L301.25,372.14 L301.52,372.84 L301.78,373.56 L302.04,374.27 L302.30,374.99 L302.57,375.71 L302.83,376.44 L303.09,377.17 L303.35,377.90 L303.62,378.64 L303.88,379.38 L304.14,380.12 L304.40,380.87 L304.67,381.62 L304.93,382.38 L305.19,383.14 L305.45,383.90 L305.72,384.67 L305.98,385.44 L306.24,386.21 L306.50,386.99 L306.77,387.77 L307.03,388.56 L307.29,389.35 L307.55,390.14 L307.81,390.94 L308.08,391.74 L308.34,392.55 L308.60,393.36 L308.86,394.17 L309.13,394.99 L309.39,395.81 L309.65,396.64 L309.91,397.47 L310.18,398.30 L310.44,399.14 L310.70,399.99 L310.96,400.83 L311.23,401.69 L311.49,402.54 L311.75,403.40 L312.01,404.27 L312.28,405.13 L312.54,406.01 L312.80,406.88 L313.06,407.77" stroke="#ff00ff" stroke-width="2.45" fill="none"/>
</g>
<rect x="97.7" y="202.4" width="399.8" height="190.79999999999998" fill="none" stroke="#7a7a7a" stroke-width="1.1"/>
<text x="124.05" y="413.6" style="font-family:'Liberation Sans',sans-serif;font-weight:bold;font-size:11.8px">10<tspan dy="-6.4" style="font-size:9.5px">1</tspan></text>
<text x="245.20" y="413.6" style="font-family:'Liberation Sans',sans-serif;font-weight:bold;font-size:11.8px">10<tspan dy="-6.4" style="font-size:9.5px">2</tspan></text>
<text x="366.35" y="413.6" style="font-family:'Liberation Sans',sans-serif;font-weight:bold;font-size:11.8px">10<tspan dy="-6.4" style="font-size:9.5px">3</tspan></text>
<text x="487.50" y="413.6" style="font-family:'Liberation Sans',sans-serif;font-weight:bold;font-size:11.8px">10<tspan dy="-6.4" style="font-size:9.5px">4</tspan></text>
<text x="94.8" y="256.50" text-anchor="end" style="font-family:'Liberation Sans',sans-serif;font-weight:bold;font-size:11.8px">10<tspan dy="-5.0" style="font-size:9.5px">−</tspan><tspan dy="-0.9" style="font-size:9.5px">2</tspan></text>
<text x="94.8" y="313.62" text-anchor="end" style="font-family:'Liberation Sans',sans-serif;font-weight:bold;font-size:11.8px">10<tspan dy="-5.0" style="font-size:9.5px">−</tspan><tspan dy="-0.9" style="font-size:9.5px">4</tspan></text>
<text x="94.8" y="370.74" text-anchor="end" style="font-family:'Liberation Sans',sans-serif;font-weight:bold;font-size:11.8px">10<tspan dy="-5.0" style="font-size:9.5px">−</tspan><tspan dy="-0.9" style="font-size:9.5px">6</tspan></text>
<text x="295.8" y="432.2" text-anchor="middle" style="font-family:'Liberation Sans',sans-serif;font-weight:bold;font-size:14.2px">Inter-Arrival Time (μs)</text>
<text transform="translate(55.1,297.1) rotate(-90)" text-anchor="middle" style="font-family:'Liberation Sans',sans-serif;font-weight:bold;font-size:14.3px">Probability (a.u.)</text>
<text x="402.2" y="221.1" style="font-family:'Liberation Sans',sans-serif;font-weight:bold;font-size:7.5px">DCR<tspan dy="2.7" style="font-size:6.3px">primary</tspan><tspan dy="-2.7"> = 2.17 kHz</tspan></text>
<text x="411.6" y="244.7" style="font-family:'Liberation Sans',sans-serif;font-weight:bold;font-size:7.5px">P<tspan dy="3" style="font-size:6.3px">AP</tspan><tspan dy="-3"> = 17.2 %</tspan></text>
<rect x="102.5" y="330.6" width="99.3" height="57.6" fill="#fff" stroke="#555" stroke-width="0.9"/>
<rect x="112.2" y="334.5" width="4.4" height="4.4" fill="none" stroke="#8c8ce8" stroke-width="0.8"/>
<rect x="112.3" y="344.8" width="3.8" height="3.8" fill="#f00"/>
<path d="M104.5,356.3 H123.4" stroke="#00ff00" stroke-width="2.5"/>
<path d="M104.5,367.9 H123.4" stroke="#000" stroke-width="2.5"/>
<path d="M104.5,380.7 H123.4" stroke="#ff00ff" stroke-width="2.5"/>
<text x="125.1" y="339.5" style="font-family:'Liberation Sans',sans-serif;font-weight:bold;font-size:7.5px">Histogram Data</text>
<text x="125.1" y="349.4" style="font-family:'Liberation Sans',sans-serif;font-weight:bold;font-size:7.5px">Smoothed Data</text>
<text x="125.1" y="359.5" style="font-family:'Liberation Sans',sans-serif;font-weight:bold;font-size:7.5px">Multi-Exponential Fit</text>
<text x="125.1" y="369.6" style="font-family:'Liberation Sans',sans-serif;font-weight:bold;font-size:7.5px">exp1 fit <tspan style="font-style:italic;font-weight:normal;font-size:9px">τ</tspan><tspan dy="3.2" style="font-size:6.3px">1</tspan><tspan dy="-3.2"> = 461 μs</tspan></text>
<text x="125.1" y="382.5" style="font-family:'Liberation Sans',sans-serif;font-weight:bold;font-size:7.5px">exp2 fit <tspan style="font-style:italic;font-weight:normal;font-size:9px">τ</tspan><tspan dy="3.2" style="font-size:6.3px">2</tspan><tspan dy="-3.2"> = 20.9 μs</tspan></text>
<g fill="none">
<path d="M317.5,384.5 V293" stroke="#000" stroke-width="1.4"/>
<path d="M317.5,384.5 H437" stroke="#000" stroke-width="1.4"/>
<path d="M335.6,298.2 V382" stroke="#222" stroke-width="1.1" stroke-dasharray="2.6,1.6"/>
</g>
<path d="M317.5,289.5 L315.3,294.5 H319.7 Z M441.2,384.5 L436.2,382.3 V386.7 Z" fill="#000"/>
<path d="M335.6,325.2 L350,325.5 L365,325.8 L378,326.3 L388,327.5 L398,330.2 L406,333.8 L413,339 L418,345 L423,353 L428.9,363.9" fill="none" stroke="#6aa5e0" stroke-width="1.8"/>
<path d="M335.6,325.2 L350,325.5 L365,325.8 L378,326.3 L388,327.5 L398,330.2 L406,333.8 L413,339 L418,345 L423,353 L428.9,363.9" fill="none" stroke="#f00" stroke-width="1.9" stroke-dasharray="4,2"/>
<defs><pattern id="hatch" patternUnits="userSpaceOnUse" width="2.6" height="3" patternTransform="rotate(45)"><rect x="0" y="0" width="1.15" height="3" fill="#2a74d6"/></pattern></defs>
<path d="M335.6,316.2 C340,319.7 346,322.6 358,324.8 L335.6,325.2 Z" fill="url(#hatch)"/>
<path d="M335.6,316.2 C340,319.7 346,322.6 358,324.8" fill="none" stroke="#2a78d8" stroke-width="1.2"/>
<path d="M359,300.6 L348.2,313.2" stroke="#5b9be6" stroke-width="0.7"/>
<path d="M346.3,315.6 L347.1,311.6 L349.7,313.8 Z" fill="#3385e0"/>
<path d="M379.6,336.5 L386.3,327.2" stroke="#f55" stroke-width="0.7"/>
<text x="345" y="296.8" style="font-family:'Liberation Sans',sans-serif;font-weight:bold;font-size:8.2px;fill:#2f7fdc;stroke:#2f7fdc;stroke-width:0.25px" textLength="42.6" lengthAdjust="spacingAndGlyphs">Afterpulsing</text>
<text x="341.5" y="344.8" style="font-family:'Liberation Sans',sans-serif;font-weight:bold;font-size:7.8px;fill:#f00;stroke:#f00;stroke-width:0.2px" textLength="52.7" lengthAdjust="spacingAndGlyphs">Exponential fit:</text>
<text x="341.5" y="354.7" style="font-family:'Liberation Sans',sans-serif;font-weight:bold;font-size:7.8px;fill:#f00;stroke:#f00;stroke-width:0.2px" textLength="70.4" lengthAdjust="spacingAndGlyphs">Primary dark counts</text>
<text x="317.5" y="391.7" style="font-family:'Liberation Sans',sans-serif;font-weight:bold;font-size:7.8px" textLength="35.8" lengthAdjust="spacingAndGlyphs">Dead time</text>
<text x="361" y="391.7" style="font-family:'Liberation Sans',sans-serif;font-weight:bold;font-size:7.8px" textLength="49" lengthAdjust="spacingAndGlyphs">IAT (log scale)</text>
<text transform="translate(311.1,364.8) rotate(-90)" style="font-family:'Liberation Sans',sans-serif;font-weight:bold;font-size:8.4px" textLength="61.2" lengthAdjust="spacingAndGlyphs">Counts (log scale)</text>
<text x="274.3" y="452.6" style="font-family:'Liberation Serif',serif;font-size:12px" text-anchor="middle" stroke="#000" stroke-width="0.3">(c)</text>
</svg></body></html>
